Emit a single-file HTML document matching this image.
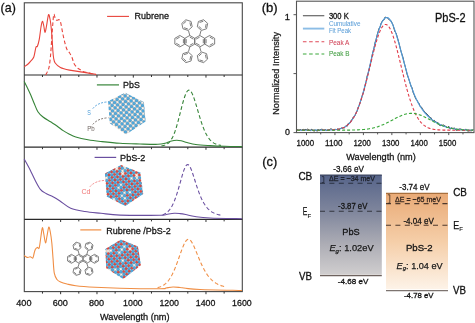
<!DOCTYPE html>
<html><head><meta charset="utf-8"><style>
html,body{margin:0;padding:0;background:#fff;width:475px;height:323px;overflow:hidden}
svg{display:block;filter:blur(0.25px);font-family:"Liberation Sans", sans-serif}
</style></head><body>
<svg width="475" height="323" viewBox="0 0 475 323" font-family='"Liberation Sans", sans-serif'><text x="0.60" y="12.00" font-size="13.61" fill="#111" text-anchor="start" stroke="#111" stroke-width="0.30" textLength="15.20" lengthAdjust="spacingAndGlyphs">(a)</text>
<rect x="24.30" y="2.80" width="218.00" height="288.80" fill="none" stroke="#474747" stroke-width="1.1"/>
<line x1="24.30" y1="75.00" x2="242.30" y2="75.00" stroke="#2a2a2a" stroke-width="1.2"/>
<line x1="24.30" y1="147.20" x2="242.30" y2="147.20" stroke="#2a2a2a" stroke-width="1.2"/>
<line x1="24.30" y1="219.40" x2="242.30" y2="219.40" stroke="#2a2a2a" stroke-width="1.2"/>
<path d="M42.47 75.00 V77.00 M60.63 75.00 V77.60 M78.80 75.00 V77.00 M96.97 75.00 V77.60 M115.13 75.00 V77.00 M133.30 75.00 V77.60 M151.47 75.00 V77.00 M169.63 75.00 V77.60 M187.80 75.00 V77.00 M205.97 75.00 V77.60 M224.13 75.00 V77.00 M42.47 147.20 V149.20 M60.63 147.20 V149.80 M78.80 147.20 V149.20 M96.97 147.20 V149.80 M115.13 147.20 V149.20 M133.30 147.20 V149.80 M151.47 147.20 V149.20 M169.63 147.20 V149.80 M187.80 147.20 V149.20 M205.97 147.20 V149.80 M224.13 147.20 V149.20 M42.47 219.40 V221.40 M60.63 219.40 V222.00 M78.80 219.40 V221.40 M96.97 219.40 V222.00 M115.13 219.40 V221.40 M133.30 219.40 V222.00 M151.47 219.40 V221.40 M169.63 219.40 V222.00 M187.80 219.40 V221.40 M205.97 219.40 V222.00 M224.13 219.40 V221.40 M42.47 291.60 V293.60 M60.63 291.60 V294.20 M78.80 291.60 V293.60 M96.97 291.60 V294.20 M115.13 291.60 V293.60 M133.30 291.60 V294.20 M151.47 291.60 V293.60 M169.63 291.60 V294.20 M187.80 291.60 V293.60 M205.97 291.60 V294.20 M224.13 291.60 V293.60" stroke="#333" stroke-width="1" fill="none"/>
<text x="23.90" y="306.30" font-size="9.94" fill="#151515" text-anchor="middle" stroke="#151515" stroke-width="0.30" textLength="15.20" lengthAdjust="spacingAndGlyphs">400</text>
<text x="60.23" y="306.30" font-size="9.94" fill="#151515" text-anchor="middle" stroke="#151515" stroke-width="0.30" textLength="15.20" lengthAdjust="spacingAndGlyphs">600</text>
<text x="96.57" y="306.30" font-size="9.94" fill="#151515" text-anchor="middle" stroke="#151515" stroke-width="0.30" textLength="15.20" lengthAdjust="spacingAndGlyphs">800</text>
<text x="132.90" y="306.30" font-size="9.94" fill="#151515" text-anchor="middle" stroke="#151515" stroke-width="0.30" textLength="19.60" lengthAdjust="spacingAndGlyphs">1000</text>
<text x="169.23" y="306.30" font-size="9.94" fill="#151515" text-anchor="middle" stroke="#151515" stroke-width="0.30" textLength="19.60" lengthAdjust="spacingAndGlyphs">1200</text>
<text x="205.57" y="306.30" font-size="9.94" fill="#151515" text-anchor="middle" stroke="#151515" stroke-width="0.30" textLength="19.60" lengthAdjust="spacingAndGlyphs">1400</text>
<text x="241.90" y="306.30" font-size="9.94" fill="#151515" text-anchor="middle" stroke="#151515" stroke-width="0.30" textLength="19.60" lengthAdjust="spacingAndGlyphs">1600</text>
<text x="134.80" y="319.80" font-size="9.94" fill="#151515" text-anchor="middle" stroke="#151515" stroke-width="0.30" textLength="69.50" lengthAdjust="spacingAndGlyphs">Wavelength (nm)</text>
<path d="M24.20 66.80 C24.75 66.42 26.45 65.42 27.50 64.50 C28.55 63.58 29.45 62.55 30.50 61.30 C31.55 60.05 32.90 59.33 33.80 57.00 C34.70 54.67 35.30 49.10 35.90 47.30 C36.50 45.50 36.85 47.47 37.40 46.20 C37.95 44.93 38.60 42.90 39.20 39.70 C39.80 36.50 40.47 30.07 41.00 27.00 C41.53 23.93 41.93 21.47 42.40 21.30 C42.87 21.13 43.37 24.13 43.80 26.00 C44.23 27.87 44.55 32.50 45.00 32.50 C45.45 32.50 45.92 28.95 46.50 26.00 C47.08 23.05 47.92 15.97 48.50 14.80 C49.08 13.63 49.57 17.02 50.00 19.00 C50.43 20.98 50.73 23.20 51.10 26.70 C51.47 30.20 51.92 36.12 52.20 40.00 C52.48 43.88 52.57 47.00 52.80 50.00 C53.03 53.00 53.20 55.83 53.60 58.00 C54.00 60.17 54.07 61.42 55.20 63.00 C56.33 64.58 58.02 66.32 60.40 67.50 C62.78 68.68 65.82 69.33 69.50 70.10 C73.18 70.87 78.17 71.42 82.50 72.10 C86.83 72.78 93.33 73.85 95.50 74.20" fill="none" stroke="#e8443c" stroke-width="1.1"/>
<path d="M45.70 75.00 C46.23 73.82 48.13 70.73 48.90 67.90 C49.67 65.07 49.93 61.27 50.30 58.00 C50.67 54.73 50.68 53.97 51.10 48.30 C51.52 42.63 52.33 29.70 52.80 24.00 C53.27 18.30 53.47 14.92 53.90 14.10 C54.33 13.28 54.88 18.08 55.40 19.10 C55.92 20.12 56.38 20.10 57.00 20.20 C57.62 20.30 58.52 19.40 59.10 19.70 C59.68 20.00 60.03 20.48 60.50 22.00 C60.97 23.52 61.40 26.30 61.90 28.80 C62.40 31.30 62.95 34.47 63.50 37.00 C64.05 39.53 64.62 41.92 65.20 44.00 C65.78 46.08 66.28 48.05 67.00 49.50 C67.72 50.95 68.67 51.37 69.50 52.70 C70.33 54.03 71.25 55.70 72.00 57.50 C72.75 59.30 73.17 61.83 74.00 63.50 C74.83 65.17 76.02 66.50 77.00 67.50 C77.98 68.50 78.90 68.83 79.90 69.50 C80.90 70.17 81.70 70.97 83.00 71.50 C84.30 72.03 86.20 72.32 87.70 72.70 C89.20 73.08 90.58 73.50 92.00 73.80 C93.42 74.10 95.50 74.38 96.20 74.50" fill="none" stroke="#e8443c" stroke-width="1.1" stroke-dasharray="3.8 2.4"/>
<line x1="107.1" y1="16.4" x2="129" y2="16.4" stroke="#e8443c" stroke-width="1.1"/>
<text x="134.50" y="19.10" font-size="9.94" fill="#151515" text-anchor="start" stroke="#151515" stroke-width="0.30" textLength="34.50" lengthAdjust="spacingAndGlyphs">Rubrene</text>
<path d="M179.81 46.95 L174.83 44.08 L174.83 38.33 L179.81 35.45 L184.79 38.33 L184.79 44.08Z M179.81 45.34 L176.23 43.27 M176.23 39.13 L179.81 37.06 M183.40 39.13 L183.40 43.27 M189.77 46.95 L184.79 44.08 L184.79 38.33 L189.77 35.45 L194.75 38.33 L194.75 44.08Z M186.19 43.27 L186.19 39.13 M189.77 37.06 L193.36 39.13 M193.36 43.27 L189.77 45.34 M199.73 46.95 L194.75 44.08 L194.75 38.33 L199.73 35.45 L204.71 38.33 L204.71 44.08Z M199.73 45.34 L196.14 43.27 M196.14 39.13 L199.73 37.06 M203.31 39.13 L203.31 43.27 M209.69 46.95 L204.71 44.08 L204.71 38.33 L209.69 35.45 L214.67 38.33 L214.67 44.08Z M206.10 43.27 L206.10 39.13 M209.69 37.06 L213.27 39.13 M213.27 43.27 L209.69 45.34 M189.77 35.45 L188.53 30.79 M188.15 30.44 L182.95 28.76 L181.82 23.41 L185.87 19.76 L191.07 21.44 L192.21 26.79Z M187.83 28.95 L184.09 27.73 M183.27 23.88 L186.19 21.25 M189.93 22.47 L190.75 26.32 M189.77 46.95 L188.53 51.61 M185.87 62.64 L181.82 58.99 L182.95 53.64 L188.15 51.96 L192.21 55.61 L191.07 60.96Z M186.19 61.15 L183.27 58.52 M184.09 54.67 L187.83 53.45 M190.75 56.08 L189.93 59.93 M199.73 35.45 L200.97 30.79 M201.35 30.44 L197.29 26.79 L198.43 21.44 L203.63 19.76 L207.68 23.41 L206.55 28.76Z M201.67 28.95 L198.75 26.32 M199.57 22.47 L203.31 21.25 M206.23 23.88 L205.41 27.73 M199.73 46.95 L200.97 51.61 M203.63 62.64 L198.43 60.96 L197.29 55.61 L201.35 51.96 L206.55 53.64 L207.68 58.99Z M203.31 61.15 L199.57 59.93 M198.75 56.08 L201.67 53.45 M205.41 54.67 L206.23 58.52" fill="none" stroke="#5e5e5e" stroke-width="0.8"/>
<path d="M24.20 81.40 C24.67 82.33 25.98 84.90 27.00 87.00 C28.02 89.10 29.13 91.33 30.30 94.00 C31.47 96.67 32.73 100.05 34.00 103.00 C35.27 105.95 36.40 109.37 37.90 111.70 C39.40 114.03 40.90 115.32 43.00 117.00 C45.10 118.68 48.17 120.30 50.50 121.80 C52.83 123.30 54.88 124.53 57.00 126.00 C59.12 127.47 61.20 129.27 63.20 130.60 C65.20 131.93 66.90 132.93 69.00 134.00 C71.10 135.07 72.63 136.03 75.80 137.00 C78.97 137.97 83.80 139.05 88.00 139.80 C92.20 140.55 95.67 140.92 101.00 141.50 C106.33 142.08 113.50 142.88 120.00 143.30 C126.50 143.72 133.68 143.83 140.00 144.00 C146.32 144.17 153.73 144.43 157.90 144.30 C162.07 144.17 162.90 143.72 165.00 143.20 C167.10 142.68 168.53 141.70 170.50 141.20 C172.47 140.70 174.88 140.23 176.80 140.20 C178.72 140.17 180.30 140.62 182.00 141.00 C183.70 141.38 184.70 141.92 187.00 142.50 C189.30 143.08 191.97 143.98 195.80 144.50 C199.63 145.02 205.13 145.30 210.00 145.60 C214.87 145.90 219.67 146.13 225.00 146.30 C230.33 146.47 239.17 146.55 242.00 146.60" fill="none" stroke="#368438" stroke-width="1.1"/>
<path d="M161.50 145.85 L162.20 145.74 L162.90 145.61 L163.60 145.46 L164.30 145.27 L165.00 145.04 L165.70 144.77 L166.40 144.43 L167.10 144.03 L167.80 143.56 L168.50 142.99 L169.20 142.32 L169.90 141.54 L170.60 140.62 L171.30 139.57 L172.00 138.38 L172.70 137.02 L173.40 135.50 L174.10 133.81 L174.80 131.95 L175.50 129.93 L176.20 127.74 L176.90 125.41 L177.60 122.94 L178.30 120.36 L179.00 117.69 L179.70 114.95 L180.40 112.18 L181.10 109.41 L181.80 106.69 L182.50 104.04 L183.20 101.51 L183.90 99.14 L184.60 96.97 L185.30 95.05 L186.00 93.40 L186.70 92.06 L187.40 91.05 L188.10 90.40 L188.80 90.11 L189.50 90.19 L190.20 90.63 L190.90 91.40 L191.60 92.49 L192.30 93.86 L193.00 95.49 L193.70 97.33 L194.40 99.35 L195.10 101.52 L195.80 103.79 L196.50 106.13 L197.20 108.51 L197.90 110.91 L198.60 113.30 L199.30 115.65 L200.00 117.95 L200.70 120.18 L201.40 122.32 L202.10 124.36 L202.80 126.31 L203.50 128.14 L204.20 129.86 L204.90 131.46 L205.60 132.94 L206.30 134.31 L207.00 135.57 L207.70 136.72 L208.40 137.77 L209.10 138.72 L209.80 139.58 L210.50 140.35 L211.20 141.04 L211.90 141.66 L212.60 142.21 L213.30 142.69 L214.00 143.12 L214.70 143.51 L215.40 143.84 L216.10 144.14 L216.80 144.40 L217.50 144.63 L218.20 144.83 L218.90 145.00 L219.60 145.16 L220.30 145.29 L221.00 145.41" fill="none" stroke="#368438" stroke-width="1.1" stroke-dasharray="3.8 2.4"/>
<line x1="96.9" y1="84.9" x2="119" y2="84.9" stroke="#368438" stroke-width="1.2"/>
<text x="123.10" y="88.20" font-size="9.94" fill="#151515" text-anchor="start" stroke="#151515" stroke-width="0.30" textLength="16.80" lengthAdjust="spacingAndGlyphs">PbS</text>
<path d="M24.20 159.00 C24.67 159.83 25.98 162.12 27.00 164.00 C28.02 165.88 28.97 167.63 30.30 170.30 C31.63 172.97 33.32 176.83 35.00 180.00 C36.68 183.17 38.57 187.05 40.40 189.30 C42.23 191.55 43.90 192.25 46.00 193.50 C48.10 194.75 50.67 195.55 53.00 196.80 C55.33 198.05 57.05 199.10 60.00 201.00 C62.95 202.90 66.53 206.45 70.70 208.20 C74.87 209.95 79.95 210.65 85.00 211.50 C90.05 212.35 95.17 212.70 101.00 213.30 C106.83 213.90 110.10 214.78 120.00 215.10 C129.90 215.42 152.57 215.35 160.40 215.20 C168.23 215.05 164.68 214.52 167.00 214.20 C169.32 213.88 172.13 213.40 174.30 213.30 C176.47 213.20 178.10 213.40 180.00 213.60 C181.90 213.80 183.20 214.02 185.70 214.50 C188.20 214.98 190.95 215.92 195.00 216.50 C199.05 217.08 202.17 217.62 210.00 218.00 C217.83 218.38 236.67 218.67 242.00 218.80" fill="none" stroke="#6a4fa0" stroke-width="1.1"/>
<path d="M162.50 214.97 L163.20 214.69 L163.90 214.36 L164.60 214.00 L165.30 213.60 L166.00 213.14 L166.70 212.63 L167.40 212.05 L168.10 211.39 L168.80 210.65 L169.50 209.82 L170.20 208.90 L170.90 207.86 L171.60 206.71 L172.30 205.44 L173.00 204.04 L173.70 202.51 L174.40 200.85 L175.10 199.05 L175.80 197.13 L176.50 195.08 L177.20 192.90 L177.90 190.63 L178.60 188.25 L179.30 185.81 L180.00 183.32 L180.70 180.81 L181.40 178.31 L182.10 175.87 L182.80 173.55 L183.50 171.38 L184.20 169.42 L184.90 167.73 L185.60 166.37 L186.30 165.38 L187.00 164.78 L187.70 164.60 L188.40 164.84 L189.10 165.47 L189.80 166.48 L190.50 167.81 L191.20 169.41 L191.90 171.24 L192.60 173.23 L193.30 175.34 L194.00 177.52 L194.70 179.74 L195.40 181.97 L196.10 184.16 L196.80 186.31 L197.50 188.40 L198.20 190.41 L198.90 192.34 L199.60 194.17 L200.30 195.90 L201.00 197.54 L201.70 199.07 L202.40 200.51 L203.10 201.85 L203.80 203.09 L204.50 204.24 L205.20 205.31 L205.90 206.29 L206.60 207.19 L207.30 208.01 L208.00 208.77 L208.70 209.46 L209.40 210.09 L210.10 210.67 L210.80 211.20 L211.50 211.68 L212.20 212.12 L212.90 212.51 L213.60 212.88 L214.30 213.21 L215.00 213.51 L215.70 213.79 L216.40 214.04 L217.10 214.28 L217.80 214.49 L218.50 214.69 L219.20 214.87 L219.90 215.04 L220.60 215.20 L221.30 215.35" fill="none" stroke="#6a4fa0" stroke-width="1.1" stroke-dasharray="3.8 2.4"/>
<line x1="94.6" y1="157.4" x2="116.2" y2="157.4" stroke="#6a4fa0" stroke-width="1.2"/>
<text x="120.10" y="161.00" font-size="9.94" fill="#151515" text-anchor="start" stroke="#151515" stroke-width="0.30" textLength="25.30" lengthAdjust="spacingAndGlyphs">PbS-2</text>
<path d="M24.20 255.50 C24.50 255.72 25.40 256.47 26.00 256.80 C26.60 257.13 27.08 257.52 27.80 257.50 C28.52 257.48 29.47 256.62 30.30 256.70 C31.13 256.78 32.15 258.62 32.80 258.00 C33.45 257.38 33.77 254.47 34.20 253.00 C34.63 251.53 34.87 250.13 35.40 249.20 C35.93 248.27 36.77 247.62 37.40 247.40 C38.03 247.18 38.60 249.80 39.20 247.90 C39.80 246.00 40.47 239.37 41.00 236.00 C41.53 232.63 41.93 228.03 42.40 227.70 C42.87 227.37 43.28 231.48 43.80 234.00 C44.32 236.52 44.97 242.47 45.50 242.80 C46.03 243.13 46.45 238.60 47.00 236.00 C47.55 233.40 48.25 227.87 48.80 227.20 C49.35 226.53 49.80 229.40 50.30 232.00 C50.80 234.60 51.35 238.47 51.80 242.80 C52.25 247.13 52.58 252.93 53.00 258.00 C53.42 263.07 53.63 269.62 54.30 273.20 C54.97 276.78 55.95 278.03 57.00 279.50 C58.05 280.97 58.93 281.25 60.60 282.00 C62.27 282.75 64.47 283.37 67.00 284.00 C69.53 284.63 71.13 285.25 75.80 285.80 C80.47 286.35 87.63 286.88 95.00 287.30 C102.37 287.72 109.10 288.05 120.00 288.30 C130.90 288.55 152.73 288.85 160.40 288.80 C168.07 288.75 163.90 288.30 166.00 288.00 C168.10 287.70 170.67 287.08 173.00 287.00 C175.33 286.92 177.88 287.28 180.00 287.50 C182.12 287.72 182.37 287.97 185.70 288.30 C189.03 288.63 190.62 289.13 200.00 289.50 C209.38 289.87 235.00 290.33 242.00 290.50" fill="none" stroke="#f08e44" stroke-width="1.1"/>
<path d="M157.50 287.68 L158.20 287.48 L158.90 287.26 L159.60 287.03 L160.30 286.76 L161.00 286.47 L161.70 286.15 L162.40 285.80 L163.10 285.40 L163.80 284.96 L164.50 284.47 L165.20 283.92 L165.90 283.32 L166.60 282.65 L167.30 281.92 L168.00 281.11 L168.70 280.22 L169.40 279.26 L170.10 278.21 L170.80 277.07 L171.50 275.84 L172.20 274.52 L172.90 273.11 L173.60 271.61 L174.30 270.03 L175.00 268.36 L175.70 266.61 L176.40 264.79 L177.10 262.91 L177.80 260.98 L178.50 259.01 L179.20 257.02 L179.90 255.01 L180.60 253.02 L181.30 251.07 L182.00 249.17 L182.70 247.36 L183.40 245.67 L184.10 244.12 L184.80 242.74 L185.50 241.57 L186.20 240.62 L186.90 239.92 L187.60 239.48 L188.30 239.30 L189.00 239.40 L189.70 239.75 L190.40 240.36 L191.10 241.19 L191.80 242.22 L192.50 243.43 L193.20 244.79 L193.90 246.27 L194.60 247.85 L195.30 249.49 L196.00 251.18 L196.70 252.90 L197.40 254.63 L198.10 256.35 L198.80 258.05 L199.50 259.72 L200.20 261.35 L200.90 262.94 L201.60 264.47 L202.30 265.95 L203.00 267.37 L203.70 268.72 L204.40 270.02 L205.10 271.25 L205.80 272.42 L206.50 273.53 L207.20 274.57 L207.90 275.55 L208.60 276.48 L209.30 277.35 L210.00 278.16 L210.70 278.92 L211.40 279.63 L212.10 280.29 L212.80 280.91 L213.50 281.48 L214.20 282.02 L214.90 282.51 L215.60 282.97 L216.30 283.40 L217.00 283.79 L217.70 284.16 L218.40 284.50 L219.10 284.81 L219.80 285.10 L220.50 285.38 L221.20 285.63 L221.90 285.86 L222.60 286.08 L223.30 286.28 L224.00 286.47 L224.70 286.64 L225.40 286.80 L226.10 286.96" fill="none" stroke="#f08e44" stroke-width="1.1" stroke-dasharray="3.8 2.4"/>
<line x1="80.3" y1="229.9" x2="101.3" y2="229.9" stroke="#f08e44" stroke-width="1.2"/>
<text x="106.20" y="233.60" font-size="9.94" fill="#151515" text-anchor="start" stroke="#151515" stroke-width="0.30" textLength="64.60" lengthAdjust="spacingAndGlyphs">Rubrene /PbS-2</text>
<path d="M71.44 263.25 L67.58 261.03 L67.58 256.57 L71.44 254.35 L75.29 256.57 L75.29 261.03Z M71.44 262.00 L68.66 260.40 M68.66 257.20 L71.44 255.60 M74.21 257.20 L74.21 260.40 M79.15 263.25 L75.29 261.03 L75.29 256.57 L79.15 254.35 L83.00 256.57 L83.00 261.03Z M76.37 260.40 L76.37 257.20 M79.15 255.60 L81.92 257.20 M81.92 260.40 L79.15 262.00 M86.85 263.25 L83.00 261.03 L83.00 256.57 L86.85 254.35 L90.71 256.57 L90.71 261.03Z M86.85 262.00 L84.08 260.40 M84.08 257.20 L86.85 255.60 M89.63 257.20 L89.63 260.40 M94.56 263.25 L90.71 261.03 L90.71 256.57 L94.56 254.35 L98.42 256.57 L98.42 261.03Z M91.79 260.40 L91.79 257.20 M94.56 255.60 L97.34 257.20 M97.34 260.40 L94.56 262.00 M79.15 254.35 L78.18 250.75 M77.89 250.48 L73.87 249.17 L72.99 245.03 L76.13 242.20 L80.15 243.51 L81.03 247.65Z M77.64 249.32 L74.75 248.38 M74.12 245.40 L76.38 243.36 M79.27 244.30 L79.91 247.28 M79.15 263.25 L78.18 266.85 M76.13 275.40 L72.99 272.57 L73.87 268.43 L77.89 267.12 L81.03 269.95 L80.15 274.09Z M76.38 274.24 L74.12 272.20 M74.75 269.22 L77.64 268.28 M79.91 270.32 L79.27 273.30 M86.85 254.35 L87.82 250.75 M88.11 250.48 L84.97 247.65 L85.85 243.51 L89.87 242.20 L93.01 245.03 L92.13 249.17Z M88.36 249.32 L86.09 247.28 M86.73 244.30 L89.62 243.36 M91.88 245.40 L91.25 248.38 M86.85 263.25 L87.82 266.85 M89.87 275.40 L85.85 274.09 L84.97 269.95 L88.11 267.12 L92.13 268.43 L93.01 272.57Z M89.62 274.24 L86.73 273.30 M86.09 270.32 L88.36 268.28 M91.25 269.22 L91.88 272.20" fill="none" stroke="#5e5e5e" stroke-width="0.8"/>
<clipPath id="nc1"><path d="M125.10 92.70 L143.90 102.00 L145.60 121.60 L126.00 134.40 L109.80 123.30 L108.10 101.20Z"/></clipPath>
<g clip-path="url(#nc1)"><path d="M125.10 92.70 L143.90 102.00 L145.60 121.60 L126.00 134.40 L109.80 123.30 L108.10 101.20Z" fill="#f4efea"/><circle cx="127.48" cy="93.06" r="1.60" fill="#4fabe0" stroke="#2f82b8" stroke-width="0.35"/><circle cx="124.73" cy="93.30" r="1.30" fill="#fbf8f4" stroke="#b89c8a" stroke-width="0.35"/><circle cx="121.99" cy="93.54" r="1.60" fill="#4fabe0" stroke="#2f82b8" stroke-width="0.35"/><circle cx="130.47" cy="95.57" r="1.60" fill="#4fabe0" stroke="#2f82b8" stroke-width="0.35"/><circle cx="127.72" cy="95.81" r="1.30" fill="#fbf8f4" stroke="#b89c8a" stroke-width="0.35"/><circle cx="124.97" cy="96.05" r="1.60" fill="#4fabe0" stroke="#2f82b8" stroke-width="0.35"/><circle cx="122.23" cy="96.29" r="1.30" fill="#fbf8f4" stroke="#b89c8a" stroke-width="0.35"/><circle cx="119.48" cy="96.53" r="1.60" fill="#4fabe0" stroke="#2f82b8" stroke-width="0.35"/><circle cx="116.73" cy="96.77" r="1.30" fill="#fbf8f4" stroke="#b89c8a" stroke-width="0.35"/><circle cx="136.20" cy="97.84" r="1.30" fill="#fbf8f4" stroke="#b89c8a" stroke-width="0.35"/><circle cx="133.46" cy="98.08" r="1.60" fill="#4fabe0" stroke="#2f82b8" stroke-width="0.35"/><circle cx="130.71" cy="98.32" r="1.30" fill="#fbf8f4" stroke="#b89c8a" stroke-width="0.35"/><circle cx="127.96" cy="98.56" r="1.60" fill="#4fabe0" stroke="#2f82b8" stroke-width="0.35"/><circle cx="125.21" cy="98.80" r="1.30" fill="#fbf8f4" stroke="#b89c8a" stroke-width="0.35"/><circle cx="122.47" cy="99.04" r="1.60" fill="#4fabe0" stroke="#2f82b8" stroke-width="0.35"/><circle cx="119.72" cy="99.28" r="1.30" fill="#fbf8f4" stroke="#b89c8a" stroke-width="0.35"/><circle cx="116.97" cy="99.52" r="1.60" fill="#4fabe0" stroke="#2f82b8" stroke-width="0.35"/><circle cx="114.23" cy="99.76" r="1.30" fill="#fbf8f4" stroke="#b89c8a" stroke-width="0.35"/><circle cx="111.48" cy="100.00" r="1.60" fill="#4fabe0" stroke="#2f82b8" stroke-width="0.35"/><circle cx="141.94" cy="100.10" r="1.60" fill="#4fabe0" stroke="#2f82b8" stroke-width="0.35"/><circle cx="108.73" cy="100.24" r="1.30" fill="#fbf8f4" stroke="#b89c8a" stroke-width="0.35"/><circle cx="139.19" cy="100.34" r="1.30" fill="#fbf8f4" stroke="#b89c8a" stroke-width="0.35"/><circle cx="136.44" cy="100.58" r="1.60" fill="#4fabe0" stroke="#2f82b8" stroke-width="0.35"/><circle cx="133.70" cy="100.82" r="1.30" fill="#fbf8f4" stroke="#b89c8a" stroke-width="0.35"/><circle cx="130.95" cy="101.06" r="1.60" fill="#4fabe0" stroke="#2f82b8" stroke-width="0.35"/><circle cx="128.20" cy="101.30" r="1.30" fill="#fbf8f4" stroke="#b89c8a" stroke-width="0.35"/><circle cx="125.46" cy="101.54" r="1.60" fill="#4fabe0" stroke="#2f82b8" stroke-width="0.35"/><circle cx="122.71" cy="101.78" r="1.30" fill="#fbf8f4" stroke="#b89c8a" stroke-width="0.35"/><circle cx="119.96" cy="102.03" r="1.60" fill="#4fabe0" stroke="#2f82b8" stroke-width="0.35"/><circle cx="117.21" cy="102.27" r="1.30" fill="#fbf8f4" stroke="#b89c8a" stroke-width="0.35"/><circle cx="114.47" cy="102.51" r="1.60" fill="#4fabe0" stroke="#2f82b8" stroke-width="0.35"/><circle cx="144.93" cy="102.61" r="1.60" fill="#4fabe0" stroke="#2f82b8" stroke-width="0.35"/><circle cx="111.72" cy="102.75" r="1.30" fill="#fbf8f4" stroke="#b89c8a" stroke-width="0.35"/><circle cx="142.18" cy="102.85" r="1.30" fill="#fbf8f4" stroke="#b89c8a" stroke-width="0.35"/><circle cx="108.97" cy="102.99" r="1.60" fill="#4fabe0" stroke="#2f82b8" stroke-width="0.35"/><circle cx="139.43" cy="103.09" r="1.60" fill="#4fabe0" stroke="#2f82b8" stroke-width="0.35"/><circle cx="136.68" cy="103.33" r="1.30" fill="#fbf8f4" stroke="#b89c8a" stroke-width="0.35"/><circle cx="133.94" cy="103.57" r="1.60" fill="#4fabe0" stroke="#2f82b8" stroke-width="0.35"/><circle cx="131.19" cy="103.81" r="1.30" fill="#fbf8f4" stroke="#b89c8a" stroke-width="0.35"/><circle cx="128.44" cy="104.05" r="1.60" fill="#4fabe0" stroke="#2f82b8" stroke-width="0.35"/><circle cx="125.70" cy="104.29" r="1.30" fill="#fbf8f4" stroke="#b89c8a" stroke-width="0.35"/><circle cx="122.95" cy="104.53" r="1.60" fill="#4fabe0" stroke="#2f82b8" stroke-width="0.35"/><circle cx="120.20" cy="104.77" r="1.30" fill="#fbf8f4" stroke="#b89c8a" stroke-width="0.35"/><circle cx="117.45" cy="105.01" r="1.60" fill="#4fabe0" stroke="#2f82b8" stroke-width="0.35"/><circle cx="114.71" cy="105.25" r="1.30" fill="#fbf8f4" stroke="#b89c8a" stroke-width="0.35"/><circle cx="145.17" cy="105.36" r="1.30" fill="#fbf8f4" stroke="#b89c8a" stroke-width="0.35"/><circle cx="111.96" cy="105.49" r="1.60" fill="#4fabe0" stroke="#2f82b8" stroke-width="0.35"/><circle cx="142.42" cy="105.60" r="1.60" fill="#4fabe0" stroke="#2f82b8" stroke-width="0.35"/><circle cx="109.21" cy="105.73" r="1.30" fill="#fbf8f4" stroke="#b89c8a" stroke-width="0.35"/><circle cx="139.67" cy="105.84" r="1.30" fill="#fbf8f4" stroke="#b89c8a" stroke-width="0.35"/><circle cx="136.92" cy="106.08" r="1.60" fill="#4fabe0" stroke="#2f82b8" stroke-width="0.35"/><circle cx="134.18" cy="106.32" r="1.30" fill="#fbf8f4" stroke="#b89c8a" stroke-width="0.35"/><circle cx="131.43" cy="106.56" r="1.60" fill="#4fabe0" stroke="#2f82b8" stroke-width="0.35"/><circle cx="128.68" cy="106.80" r="1.30" fill="#fbf8f4" stroke="#b89c8a" stroke-width="0.35"/><circle cx="125.94" cy="107.04" r="1.60" fill="#4fabe0" stroke="#2f82b8" stroke-width="0.35"/><circle cx="123.19" cy="107.28" r="1.30" fill="#fbf8f4" stroke="#b89c8a" stroke-width="0.35"/><circle cx="120.44" cy="107.52" r="1.60" fill="#4fabe0" stroke="#2f82b8" stroke-width="0.35"/><circle cx="117.69" cy="107.76" r="1.30" fill="#fbf8f4" stroke="#b89c8a" stroke-width="0.35"/><circle cx="114.95" cy="108.00" r="1.60" fill="#4fabe0" stroke="#2f82b8" stroke-width="0.35"/><circle cx="145.41" cy="108.10" r="1.60" fill="#4fabe0" stroke="#2f82b8" stroke-width="0.35"/><circle cx="112.20" cy="108.24" r="1.30" fill="#fbf8f4" stroke="#b89c8a" stroke-width="0.35"/><circle cx="142.66" cy="108.34" r="1.30" fill="#fbf8f4" stroke="#b89c8a" stroke-width="0.35"/><circle cx="109.45" cy="108.48" r="1.60" fill="#4fabe0" stroke="#2f82b8" stroke-width="0.35"/><circle cx="139.91" cy="108.58" r="1.60" fill="#4fabe0" stroke="#2f82b8" stroke-width="0.35"/><circle cx="137.17" cy="108.82" r="1.30" fill="#fbf8f4" stroke="#b89c8a" stroke-width="0.35"/><circle cx="134.42" cy="109.07" r="1.60" fill="#4fabe0" stroke="#2f82b8" stroke-width="0.35"/><circle cx="131.67" cy="109.31" r="1.30" fill="#fbf8f4" stroke="#b89c8a" stroke-width="0.35"/><circle cx="128.92" cy="109.55" r="1.60" fill="#4fabe0" stroke="#2f82b8" stroke-width="0.35"/><circle cx="126.18" cy="109.79" r="1.30" fill="#fbf8f4" stroke="#b89c8a" stroke-width="0.35"/><circle cx="123.43" cy="110.03" r="1.60" fill="#4fabe0" stroke="#2f82b8" stroke-width="0.35"/><circle cx="120.68" cy="110.27" r="1.30" fill="#fbf8f4" stroke="#b89c8a" stroke-width="0.35"/><circle cx="117.93" cy="110.51" r="1.60" fill="#4fabe0" stroke="#2f82b8" stroke-width="0.35"/><circle cx="115.19" cy="110.75" r="1.30" fill="#fbf8f4" stroke="#b89c8a" stroke-width="0.35"/><circle cx="145.65" cy="110.85" r="1.30" fill="#fbf8f4" stroke="#b89c8a" stroke-width="0.35"/><circle cx="112.44" cy="110.99" r="1.60" fill="#4fabe0" stroke="#2f82b8" stroke-width="0.35"/><circle cx="142.90" cy="111.09" r="1.60" fill="#4fabe0" stroke="#2f82b8" stroke-width="0.35"/><circle cx="109.69" cy="111.23" r="1.30" fill="#fbf8f4" stroke="#b89c8a" stroke-width="0.35"/><circle cx="140.15" cy="111.33" r="1.30" fill="#fbf8f4" stroke="#b89c8a" stroke-width="0.35"/><circle cx="137.41" cy="111.57" r="1.60" fill="#4fabe0" stroke="#2f82b8" stroke-width="0.35"/><circle cx="134.66" cy="111.81" r="1.30" fill="#fbf8f4" stroke="#b89c8a" stroke-width="0.35"/><circle cx="131.91" cy="112.05" r="1.60" fill="#4fabe0" stroke="#2f82b8" stroke-width="0.35"/><circle cx="129.16" cy="112.29" r="1.30" fill="#fbf8f4" stroke="#b89c8a" stroke-width="0.35"/><circle cx="126.42" cy="112.53" r="1.60" fill="#4fabe0" stroke="#2f82b8" stroke-width="0.35"/><circle cx="123.67" cy="112.77" r="1.30" fill="#fbf8f4" stroke="#b89c8a" stroke-width="0.35"/><circle cx="120.92" cy="113.01" r="1.60" fill="#4fabe0" stroke="#2f82b8" stroke-width="0.35"/><circle cx="118.17" cy="113.25" r="1.30" fill="#fbf8f4" stroke="#b89c8a" stroke-width="0.35"/><circle cx="115.43" cy="113.49" r="1.60" fill="#4fabe0" stroke="#2f82b8" stroke-width="0.35"/><circle cx="145.89" cy="113.60" r="1.60" fill="#4fabe0" stroke="#2f82b8" stroke-width="0.35"/><circle cx="112.68" cy="113.74" r="1.30" fill="#fbf8f4" stroke="#b89c8a" stroke-width="0.35"/><circle cx="143.14" cy="113.84" r="1.30" fill="#fbf8f4" stroke="#b89c8a" stroke-width="0.35"/><circle cx="109.93" cy="113.98" r="1.60" fill="#4fabe0" stroke="#2f82b8" stroke-width="0.35"/><circle cx="140.39" cy="114.08" r="1.60" fill="#4fabe0" stroke="#2f82b8" stroke-width="0.35"/><circle cx="137.65" cy="114.32" r="1.30" fill="#fbf8f4" stroke="#b89c8a" stroke-width="0.35"/><circle cx="134.90" cy="114.56" r="1.60" fill="#4fabe0" stroke="#2f82b8" stroke-width="0.35"/><circle cx="132.15" cy="114.80" r="1.30" fill="#fbf8f4" stroke="#b89c8a" stroke-width="0.35"/><circle cx="129.40" cy="115.04" r="1.60" fill="#4fabe0" stroke="#2f82b8" stroke-width="0.35"/><circle cx="126.66" cy="115.28" r="1.30" fill="#fbf8f4" stroke="#b89c8a" stroke-width="0.35"/><circle cx="123.91" cy="115.52" r="1.60" fill="#4fabe0" stroke="#2f82b8" stroke-width="0.35"/><circle cx="121.16" cy="115.76" r="1.30" fill="#fbf8f4" stroke="#b89c8a" stroke-width="0.35"/><circle cx="118.42" cy="116.00" r="1.60" fill="#4fabe0" stroke="#2f82b8" stroke-width="0.35"/><circle cx="115.67" cy="116.24" r="1.30" fill="#fbf8f4" stroke="#b89c8a" stroke-width="0.35"/><circle cx="146.13" cy="116.35" r="1.30" fill="#fbf8f4" stroke="#b89c8a" stroke-width="0.35"/><circle cx="112.92" cy="116.48" r="1.60" fill="#4fabe0" stroke="#2f82b8" stroke-width="0.35"/><circle cx="143.38" cy="116.59" r="1.60" fill="#4fabe0" stroke="#2f82b8" stroke-width="0.35"/><circle cx="110.17" cy="116.72" r="1.30" fill="#fbf8f4" stroke="#b89c8a" stroke-width="0.35"/><circle cx="140.63" cy="116.83" r="1.30" fill="#fbf8f4" stroke="#b89c8a" stroke-width="0.35"/><circle cx="137.89" cy="117.07" r="1.60" fill="#4fabe0" stroke="#2f82b8" stroke-width="0.35"/><circle cx="135.14" cy="117.31" r="1.30" fill="#fbf8f4" stroke="#b89c8a" stroke-width="0.35"/><circle cx="132.39" cy="117.55" r="1.60" fill="#4fabe0" stroke="#2f82b8" stroke-width="0.35"/><circle cx="129.64" cy="117.79" r="1.30" fill="#fbf8f4" stroke="#b89c8a" stroke-width="0.35"/><circle cx="126.90" cy="118.03" r="1.60" fill="#4fabe0" stroke="#2f82b8" stroke-width="0.35"/><circle cx="124.15" cy="118.27" r="1.30" fill="#fbf8f4" stroke="#b89c8a" stroke-width="0.35"/><circle cx="121.40" cy="118.51" r="1.60" fill="#4fabe0" stroke="#2f82b8" stroke-width="0.35"/><circle cx="118.66" cy="118.75" r="1.30" fill="#fbf8f4" stroke="#b89c8a" stroke-width="0.35"/><circle cx="115.91" cy="118.99" r="1.60" fill="#4fabe0" stroke="#2f82b8" stroke-width="0.35"/><circle cx="146.37" cy="119.09" r="1.60" fill="#4fabe0" stroke="#2f82b8" stroke-width="0.35"/><circle cx="113.16" cy="119.23" r="1.30" fill="#fbf8f4" stroke="#b89c8a" stroke-width="0.35"/><circle cx="143.62" cy="119.33" r="1.30" fill="#fbf8f4" stroke="#b89c8a" stroke-width="0.35"/><circle cx="110.41" cy="119.47" r="1.60" fill="#4fabe0" stroke="#2f82b8" stroke-width="0.35"/><circle cx="140.87" cy="119.57" r="1.60" fill="#4fabe0" stroke="#2f82b8" stroke-width="0.35"/><circle cx="138.13" cy="119.81" r="1.30" fill="#fbf8f4" stroke="#b89c8a" stroke-width="0.35"/><circle cx="135.38" cy="120.05" r="1.60" fill="#4fabe0" stroke="#2f82b8" stroke-width="0.35"/><circle cx="132.63" cy="120.29" r="1.30" fill="#fbf8f4" stroke="#b89c8a" stroke-width="0.35"/><circle cx="129.88" cy="120.53" r="1.60" fill="#4fabe0" stroke="#2f82b8" stroke-width="0.35"/><circle cx="127.14" cy="120.78" r="1.30" fill="#fbf8f4" stroke="#b89c8a" stroke-width="0.35"/><circle cx="124.39" cy="121.02" r="1.60" fill="#4fabe0" stroke="#2f82b8" stroke-width="0.35"/><circle cx="121.64" cy="121.26" r="1.30" fill="#fbf8f4" stroke="#b89c8a" stroke-width="0.35"/><circle cx="118.90" cy="121.50" r="1.60" fill="#4fabe0" stroke="#2f82b8" stroke-width="0.35"/><circle cx="116.15" cy="121.74" r="1.30" fill="#fbf8f4" stroke="#b89c8a" stroke-width="0.35"/><circle cx="146.61" cy="121.84" r="1.30" fill="#fbf8f4" stroke="#b89c8a" stroke-width="0.35"/><circle cx="113.40" cy="121.98" r="1.60" fill="#4fabe0" stroke="#2f82b8" stroke-width="0.35"/><circle cx="143.86" cy="122.08" r="1.60" fill="#4fabe0" stroke="#2f82b8" stroke-width="0.35"/><circle cx="110.65" cy="122.22" r="1.30" fill="#fbf8f4" stroke="#b89c8a" stroke-width="0.35"/><circle cx="141.11" cy="122.32" r="1.30" fill="#fbf8f4" stroke="#b89c8a" stroke-width="0.35"/><circle cx="138.37" cy="122.56" r="1.60" fill="#4fabe0" stroke="#2f82b8" stroke-width="0.35"/><circle cx="135.62" cy="122.80" r="1.30" fill="#fbf8f4" stroke="#b89c8a" stroke-width="0.35"/><circle cx="132.87" cy="123.04" r="1.60" fill="#4fabe0" stroke="#2f82b8" stroke-width="0.35"/><circle cx="130.13" cy="123.28" r="1.30" fill="#fbf8f4" stroke="#b89c8a" stroke-width="0.35"/><circle cx="127.38" cy="123.52" r="1.60" fill="#4fabe0" stroke="#2f82b8" stroke-width="0.35"/><circle cx="124.63" cy="123.76" r="1.30" fill="#fbf8f4" stroke="#b89c8a" stroke-width="0.35"/><circle cx="121.88" cy="124.00" r="1.60" fill="#4fabe0" stroke="#2f82b8" stroke-width="0.35"/><circle cx="119.14" cy="124.24" r="1.30" fill="#fbf8f4" stroke="#b89c8a" stroke-width="0.35"/><circle cx="116.39" cy="124.48" r="1.60" fill="#4fabe0" stroke="#2f82b8" stroke-width="0.35"/><circle cx="113.64" cy="124.72" r="1.30" fill="#fbf8f4" stroke="#b89c8a" stroke-width="0.35"/><circle cx="110.89" cy="124.96" r="1.60" fill="#4fabe0" stroke="#2f82b8" stroke-width="0.35"/><circle cx="141.35" cy="125.07" r="1.60" fill="#4fabe0" stroke="#2f82b8" stroke-width="0.35"/><circle cx="138.61" cy="125.31" r="1.30" fill="#fbf8f4" stroke="#b89c8a" stroke-width="0.35"/><circle cx="135.86" cy="125.55" r="1.60" fill="#4fabe0" stroke="#2f82b8" stroke-width="0.35"/><circle cx="133.11" cy="125.79" r="1.30" fill="#fbf8f4" stroke="#b89c8a" stroke-width="0.35"/><circle cx="130.37" cy="126.03" r="1.60" fill="#4fabe0" stroke="#2f82b8" stroke-width="0.35"/><circle cx="127.62" cy="126.27" r="1.30" fill="#fbf8f4" stroke="#b89c8a" stroke-width="0.35"/><circle cx="124.87" cy="126.51" r="1.60" fill="#4fabe0" stroke="#2f82b8" stroke-width="0.35"/><circle cx="122.12" cy="126.75" r="1.30" fill="#fbf8f4" stroke="#b89c8a" stroke-width="0.35"/><circle cx="119.38" cy="126.99" r="1.60" fill="#4fabe0" stroke="#2f82b8" stroke-width="0.35"/><circle cx="116.63" cy="127.23" r="1.30" fill="#fbf8f4" stroke="#b89c8a" stroke-width="0.35"/><circle cx="136.10" cy="128.30" r="1.30" fill="#fbf8f4" stroke="#b89c8a" stroke-width="0.35"/><circle cx="133.35" cy="128.54" r="1.60" fill="#4fabe0" stroke="#2f82b8" stroke-width="0.35"/><circle cx="130.61" cy="128.78" r="1.30" fill="#fbf8f4" stroke="#b89c8a" stroke-width="0.35"/><circle cx="127.86" cy="129.02" r="1.60" fill="#4fabe0" stroke="#2f82b8" stroke-width="0.35"/><circle cx="125.11" cy="129.26" r="1.30" fill="#fbf8f4" stroke="#b89c8a" stroke-width="0.35"/><circle cx="122.36" cy="129.50" r="1.60" fill="#4fabe0" stroke="#2f82b8" stroke-width="0.35"/><circle cx="119.62" cy="129.74" r="1.30" fill="#fbf8f4" stroke="#b89c8a" stroke-width="0.35"/><circle cx="130.85" cy="131.52" r="1.60" fill="#4fabe0" stroke="#2f82b8" stroke-width="0.35"/><circle cx="128.10" cy="131.76" r="1.30" fill="#fbf8f4" stroke="#b89c8a" stroke-width="0.35"/><circle cx="125.35" cy="132.00" r="1.60" fill="#4fabe0" stroke="#2f82b8" stroke-width="0.35"/><circle cx="122.60" cy="132.24" r="1.30" fill="#fbf8f4" stroke="#b89c8a" stroke-width="0.35"/><circle cx="125.59" cy="134.75" r="1.30" fill="#fbf8f4" stroke="#b89c8a" stroke-width="0.35"/></g>
<clipPath id="nc2"><path d="M121.10 165.10 L140.60 172.80 L143.20 194.00 L125.30 206.00 L106.60 196.60 L104.90 173.60Z"/></clipPath>
<g clip-path="url(#nc2)"><path d="M121.10 165.10 L140.60 172.80 L143.20 194.00 L125.30 206.00 L106.60 196.60 L104.90 173.60Z" fill="#f4efea"/><circle cx="121.94" cy="165.51" r="1.22" fill="#e84a42" stroke="#b8362f" stroke-width="0.35"/><circle cx="119.20" cy="165.75" r="1.55" fill="#4fabe0" stroke="#2f82b8" stroke-width="0.35"/><circle cx="127.66" cy="167.77" r="1.55" fill="#4fabe0" stroke="#2f82b8" stroke-width="0.35"/><circle cx="124.92" cy="168.01" r="1.22" fill="#fbf8f4" stroke="#b89c8a" stroke-width="0.35"/><circle cx="122.18" cy="168.25" r="1.55" fill="#4fabe0" stroke="#2f82b8" stroke-width="0.35"/><circle cx="119.44" cy="168.49" r="1.22" fill="#e84a42" stroke="#b8362f" stroke-width="0.35"/><circle cx="116.70" cy="168.73" r="1.22" fill="#fbf8f4" stroke="#b89c8a" stroke-width="0.35"/><circle cx="113.96" cy="168.97" r="1.22" fill="#e84a42" stroke="#b8362f" stroke-width="0.35"/><circle cx="111.22" cy="169.20" r="1.55" fill="#4fabe0" stroke="#2f82b8" stroke-width="0.35"/><circle cx="133.38" cy="170.03" r="1.22" fill="#e84a42" stroke="#b8362f" stroke-width="0.35"/><circle cx="130.64" cy="170.27" r="1.55" fill="#4fabe0" stroke="#2f82b8" stroke-width="0.35"/><circle cx="127.90" cy="170.51" r="1.22" fill="#e84a42" stroke="#b8362f" stroke-width="0.35"/><circle cx="125.16" cy="170.75" r="1.55" fill="#4fabe0" stroke="#2f82b8" stroke-width="0.35"/><circle cx="122.42" cy="170.99" r="1.22" fill="#fbf8f4" stroke="#b89c8a" stroke-width="0.35"/><circle cx="119.68" cy="171.23" r="1.55" fill="#4fabe0" stroke="#2f82b8" stroke-width="0.35"/><circle cx="116.94" cy="171.47" r="1.22" fill="#e84a42" stroke="#b8362f" stroke-width="0.35"/><circle cx="114.20" cy="171.70" r="1.55" fill="#4fabe0" stroke="#2f82b8" stroke-width="0.35"/><circle cx="111.46" cy="171.94" r="1.22" fill="#e84a42" stroke="#b8362f" stroke-width="0.35"/><circle cx="108.72" cy="172.18" r="1.55" fill="#4fabe0" stroke="#2f82b8" stroke-width="0.35"/><circle cx="139.10" cy="172.29" r="1.55" fill="#4fabe0" stroke="#2f82b8" stroke-width="0.35"/><circle cx="105.98" cy="172.42" r="1.22" fill="#e84a42" stroke="#b8362f" stroke-width="0.35"/><circle cx="136.36" cy="172.53" r="1.22" fill="#e84a42" stroke="#b8362f" stroke-width="0.35"/><circle cx="133.62" cy="172.77" r="1.55" fill="#4fabe0" stroke="#2f82b8" stroke-width="0.35"/><circle cx="130.88" cy="173.01" r="1.22" fill="#e84a42" stroke="#b8362f" stroke-width="0.35"/><circle cx="128.14" cy="173.25" r="1.55" fill="#4fabe0" stroke="#2f82b8" stroke-width="0.35"/><circle cx="125.40" cy="173.49" r="1.22" fill="#e84a42" stroke="#b8362f" stroke-width="0.35"/><circle cx="122.66" cy="173.73" r="1.22" fill="#fbf8f4" stroke="#b89c8a" stroke-width="0.35"/><circle cx="119.92" cy="173.96" r="1.22" fill="#e84a42" stroke="#b8362f" stroke-width="0.35"/><circle cx="117.18" cy="174.20" r="1.55" fill="#4fabe0" stroke="#2f82b8" stroke-width="0.35"/><circle cx="114.44" cy="174.44" r="1.22" fill="#e84a42" stroke="#b8362f" stroke-width="0.35"/><circle cx="111.70" cy="174.68" r="1.55" fill="#4fabe0" stroke="#2f82b8" stroke-width="0.35"/><circle cx="108.96" cy="174.92" r="1.22" fill="#e84a42" stroke="#b8362f" stroke-width="0.35"/><circle cx="139.33" cy="175.03" r="1.22" fill="#e84a42" stroke="#b8362f" stroke-width="0.35"/><circle cx="106.22" cy="175.16" r="1.55" fill="#4fabe0" stroke="#2f82b8" stroke-width="0.35"/><circle cx="136.60" cy="175.27" r="1.22" fill="#fbf8f4" stroke="#b89c8a" stroke-width="0.35"/><circle cx="133.86" cy="175.51" r="1.22" fill="#e84a42" stroke="#b8362f" stroke-width="0.35"/><circle cx="131.12" cy="175.75" r="1.55" fill="#4fabe0" stroke="#2f82b8" stroke-width="0.35"/><circle cx="128.38" cy="175.99" r="1.22" fill="#e84a42" stroke="#b8362f" stroke-width="0.35"/><circle cx="125.64" cy="176.23" r="1.55" fill="#4fabe0" stroke="#2f82b8" stroke-width="0.35"/><circle cx="122.90" cy="176.46" r="1.22" fill="#e84a42" stroke="#b8362f" stroke-width="0.35"/><circle cx="120.16" cy="176.70" r="1.55" fill="#4fabe0" stroke="#2f82b8" stroke-width="0.35"/><circle cx="117.42" cy="176.94" r="1.22" fill="#e84a42" stroke="#b8362f" stroke-width="0.35"/><circle cx="114.68" cy="177.18" r="1.55" fill="#4fabe0" stroke="#2f82b8" stroke-width="0.35"/><circle cx="111.94" cy="177.42" r="1.22" fill="#e84a42" stroke="#b8362f" stroke-width="0.35"/><circle cx="109.20" cy="177.66" r="1.55" fill="#4fabe0" stroke="#2f82b8" stroke-width="0.35"/><circle cx="139.57" cy="177.77" r="1.55" fill="#4fabe0" stroke="#2f82b8" stroke-width="0.35"/><circle cx="106.46" cy="177.90" r="1.22" fill="#fbf8f4" stroke="#b89c8a" stroke-width="0.35"/><circle cx="136.83" cy="178.01" r="1.22" fill="#fbf8f4" stroke="#b89c8a" stroke-width="0.35"/><circle cx="134.10" cy="178.25" r="1.55" fill="#4fabe0" stroke="#2f82b8" stroke-width="0.35"/><circle cx="131.36" cy="178.49" r="1.22" fill="#fbf8f4" stroke="#b89c8a" stroke-width="0.35"/><circle cx="128.62" cy="178.72" r="1.55" fill="#4fabe0" stroke="#2f82b8" stroke-width="0.35"/><circle cx="125.88" cy="178.96" r="1.22" fill="#e84a42" stroke="#b8362f" stroke-width="0.35"/><circle cx="123.14" cy="179.20" r="1.55" fill="#4fabe0" stroke="#2f82b8" stroke-width="0.35"/><circle cx="120.40" cy="179.44" r="1.22" fill="#e84a42" stroke="#b8362f" stroke-width="0.35"/><circle cx="117.66" cy="179.68" r="1.55" fill="#4fabe0" stroke="#2f82b8" stroke-width="0.35"/><circle cx="114.92" cy="179.92" r="1.22" fill="#e84a42" stroke="#b8362f" stroke-width="0.35"/><circle cx="112.18" cy="180.16" r="1.55" fill="#4fabe0" stroke="#2f82b8" stroke-width="0.35"/><circle cx="109.44" cy="180.40" r="1.22" fill="#e84a42" stroke="#b8362f" stroke-width="0.35"/><circle cx="139.81" cy="180.51" r="1.22" fill="#e84a42" stroke="#b8362f" stroke-width="0.35"/><circle cx="106.70" cy="180.64" r="1.55" fill="#4fabe0" stroke="#2f82b8" stroke-width="0.35"/><circle cx="137.07" cy="180.75" r="1.55" fill="#4fabe0" stroke="#2f82b8" stroke-width="0.35"/><circle cx="134.34" cy="180.99" r="1.22" fill="#e84a42" stroke="#b8362f" stroke-width="0.35"/><circle cx="131.60" cy="181.22" r="1.55" fill="#4fabe0" stroke="#2f82b8" stroke-width="0.35"/><circle cx="128.86" cy="181.46" r="1.22" fill="#e84a42" stroke="#b8362f" stroke-width="0.35"/><circle cx="126.12" cy="181.70" r="1.55" fill="#4fabe0" stroke="#2f82b8" stroke-width="0.35"/><circle cx="123.38" cy="181.94" r="1.22" fill="#e84a42" stroke="#b8362f" stroke-width="0.35"/><circle cx="120.64" cy="182.18" r="1.55" fill="#4fabe0" stroke="#2f82b8" stroke-width="0.35"/><circle cx="117.90" cy="182.42" r="1.22" fill="#e84a42" stroke="#b8362f" stroke-width="0.35"/><circle cx="115.16" cy="182.66" r="1.55" fill="#4fabe0" stroke="#2f82b8" stroke-width="0.35"/><circle cx="112.42" cy="182.90" r="1.22" fill="#e84a42" stroke="#b8362f" stroke-width="0.35"/><circle cx="142.79" cy="183.01" r="1.22" fill="#e84a42" stroke="#b8362f" stroke-width="0.35"/><circle cx="109.68" cy="183.14" r="1.55" fill="#4fabe0" stroke="#2f82b8" stroke-width="0.35"/><circle cx="140.05" cy="183.25" r="1.55" fill="#4fabe0" stroke="#2f82b8" stroke-width="0.35"/><circle cx="106.94" cy="183.38" r="1.22" fill="#e84a42" stroke="#b8362f" stroke-width="0.35"/><circle cx="137.31" cy="183.48" r="1.22" fill="#e84a42" stroke="#b8362f" stroke-width="0.35"/><circle cx="134.57" cy="183.72" r="1.55" fill="#4fabe0" stroke="#2f82b8" stroke-width="0.35"/><circle cx="131.84" cy="183.96" r="1.22" fill="#e84a42" stroke="#b8362f" stroke-width="0.35"/><circle cx="129.10" cy="184.20" r="1.55" fill="#4fabe0" stroke="#2f82b8" stroke-width="0.35"/><circle cx="126.36" cy="184.44" r="1.22" fill="#e84a42" stroke="#b8362f" stroke-width="0.35"/><circle cx="123.62" cy="184.68" r="1.55" fill="#4fabe0" stroke="#2f82b8" stroke-width="0.35"/><circle cx="120.88" cy="184.92" r="1.22" fill="#fbf8f4" stroke="#b89c8a" stroke-width="0.35"/><circle cx="118.14" cy="185.16" r="1.55" fill="#4fabe0" stroke="#2f82b8" stroke-width="0.35"/><circle cx="115.40" cy="185.40" r="1.22" fill="#e84a42" stroke="#b8362f" stroke-width="0.35"/><circle cx="112.66" cy="185.64" r="1.55" fill="#4fabe0" stroke="#2f82b8" stroke-width="0.35"/><circle cx="143.03" cy="185.75" r="1.55" fill="#4fabe0" stroke="#2f82b8" stroke-width="0.35"/><circle cx="109.92" cy="185.88" r="1.22" fill="#e84a42" stroke="#b8362f" stroke-width="0.35"/><circle cx="140.29" cy="185.98" r="1.22" fill="#e84a42" stroke="#b8362f" stroke-width="0.35"/><circle cx="107.18" cy="186.12" r="1.55" fill="#4fabe0" stroke="#2f82b8" stroke-width="0.35"/><circle cx="137.55" cy="186.22" r="1.55" fill="#4fabe0" stroke="#2f82b8" stroke-width="0.35"/><circle cx="134.81" cy="186.46" r="1.22" fill="#e84a42" stroke="#b8362f" stroke-width="0.35"/><circle cx="132.07" cy="186.70" r="1.55" fill="#4fabe0" stroke="#2f82b8" stroke-width="0.35"/><circle cx="129.34" cy="186.94" r="1.22" fill="#e84a42" stroke="#b8362f" stroke-width="0.35"/><circle cx="126.60" cy="187.18" r="1.55" fill="#4fabe0" stroke="#2f82b8" stroke-width="0.35"/><circle cx="123.86" cy="187.42" r="1.22" fill="#e84a42" stroke="#b8362f" stroke-width="0.35"/><circle cx="121.12" cy="187.66" r="1.55" fill="#4fabe0" stroke="#2f82b8" stroke-width="0.35"/><circle cx="118.38" cy="187.90" r="1.22" fill="#fbf8f4" stroke="#b89c8a" stroke-width="0.35"/><circle cx="115.64" cy="188.14" r="1.55" fill="#4fabe0" stroke="#2f82b8" stroke-width="0.35"/><circle cx="112.90" cy="188.38" r="1.22" fill="#e84a42" stroke="#b8362f" stroke-width="0.35"/><circle cx="143.27" cy="188.48" r="1.22" fill="#fbf8f4" stroke="#b89c8a" stroke-width="0.35"/><circle cx="110.16" cy="188.62" r="1.55" fill="#4fabe0" stroke="#2f82b8" stroke-width="0.35"/><circle cx="140.53" cy="188.72" r="1.55" fill="#4fabe0" stroke="#2f82b8" stroke-width="0.35"/><circle cx="107.42" cy="188.86" r="1.22" fill="#e84a42" stroke="#b8362f" stroke-width="0.35"/><circle cx="137.79" cy="188.96" r="1.22" fill="#e84a42" stroke="#b8362f" stroke-width="0.35"/><circle cx="135.05" cy="189.20" r="1.55" fill="#4fabe0" stroke="#2f82b8" stroke-width="0.35"/><circle cx="132.31" cy="189.44" r="1.22" fill="#e84a42" stroke="#b8362f" stroke-width="0.35"/><circle cx="129.58" cy="189.68" r="1.55" fill="#4fabe0" stroke="#2f82b8" stroke-width="0.35"/><circle cx="126.84" cy="189.92" r="1.22" fill="#e84a42" stroke="#b8362f" stroke-width="0.35"/><circle cx="124.10" cy="190.16" r="1.55" fill="#4fabe0" stroke="#2f82b8" stroke-width="0.35"/><circle cx="121.36" cy="190.40" r="1.22" fill="#e84a42" stroke="#b8362f" stroke-width="0.35"/><circle cx="118.62" cy="190.64" r="1.55" fill="#4fabe0" stroke="#2f82b8" stroke-width="0.35"/><circle cx="115.88" cy="190.88" r="1.22" fill="#e84a42" stroke="#b8362f" stroke-width="0.35"/><circle cx="113.14" cy="191.12" r="1.55" fill="#4fabe0" stroke="#2f82b8" stroke-width="0.35"/><circle cx="143.51" cy="191.22" r="1.55" fill="#4fabe0" stroke="#2f82b8" stroke-width="0.35"/><circle cx="110.40" cy="191.36" r="1.22" fill="#e84a42" stroke="#b8362f" stroke-width="0.35"/><circle cx="140.77" cy="191.46" r="1.22" fill="#e84a42" stroke="#b8362f" stroke-width="0.35"/><circle cx="107.66" cy="191.60" r="1.55" fill="#4fabe0" stroke="#2f82b8" stroke-width="0.35"/><circle cx="138.03" cy="191.70" r="1.55" fill="#4fabe0" stroke="#2f82b8" stroke-width="0.35"/><circle cx="135.29" cy="191.94" r="1.22" fill="#e84a42" stroke="#b8362f" stroke-width="0.35"/><circle cx="132.55" cy="192.18" r="1.55" fill="#4fabe0" stroke="#2f82b8" stroke-width="0.35"/><circle cx="129.81" cy="192.42" r="1.22" fill="#fbf8f4" stroke="#b89c8a" stroke-width="0.35"/><circle cx="127.08" cy="192.66" r="1.55" fill="#4fabe0" stroke="#2f82b8" stroke-width="0.35"/><circle cx="124.34" cy="192.90" r="1.22" fill="#fbf8f4" stroke="#b89c8a" stroke-width="0.35"/><circle cx="121.60" cy="193.14" r="1.55" fill="#4fabe0" stroke="#2f82b8" stroke-width="0.35"/><circle cx="118.86" cy="193.38" r="1.22" fill="#e84a42" stroke="#b8362f" stroke-width="0.35"/><circle cx="116.12" cy="193.62" r="1.55" fill="#4fabe0" stroke="#2f82b8" stroke-width="0.35"/><circle cx="113.38" cy="193.86" r="1.22" fill="#e84a42" stroke="#b8362f" stroke-width="0.35"/><circle cx="143.75" cy="193.96" r="1.22" fill="#e84a42" stroke="#b8362f" stroke-width="0.35"/><circle cx="110.64" cy="194.10" r="1.55" fill="#4fabe0" stroke="#2f82b8" stroke-width="0.35"/><circle cx="141.01" cy="194.20" r="1.55" fill="#4fabe0" stroke="#2f82b8" stroke-width="0.35"/><circle cx="107.90" cy="194.34" r="1.22" fill="#e84a42" stroke="#b8362f" stroke-width="0.35"/><circle cx="138.27" cy="194.44" r="1.22" fill="#e84a42" stroke="#b8362f" stroke-width="0.35"/><circle cx="135.53" cy="194.68" r="1.55" fill="#4fabe0" stroke="#2f82b8" stroke-width="0.35"/><circle cx="132.79" cy="194.92" r="1.22" fill="#e84a42" stroke="#b8362f" stroke-width="0.35"/><circle cx="130.05" cy="195.16" r="1.55" fill="#4fabe0" stroke="#2f82b8" stroke-width="0.35"/><circle cx="127.31" cy="195.40" r="1.22" fill="#e84a42" stroke="#b8362f" stroke-width="0.35"/><circle cx="124.58" cy="195.64" r="1.55" fill="#4fabe0" stroke="#2f82b8" stroke-width="0.35"/><circle cx="121.84" cy="195.88" r="1.22" fill="#fbf8f4" stroke="#b89c8a" stroke-width="0.35"/><circle cx="119.10" cy="196.12" r="1.55" fill="#4fabe0" stroke="#2f82b8" stroke-width="0.35"/><circle cx="116.36" cy="196.36" r="1.22" fill="#e84a42" stroke="#b8362f" stroke-width="0.35"/><circle cx="113.62" cy="196.60" r="1.55" fill="#4fabe0" stroke="#2f82b8" stroke-width="0.35"/><circle cx="110.88" cy="196.84" r="1.22" fill="#e84a42" stroke="#b8362f" stroke-width="0.35"/><circle cx="108.14" cy="197.08" r="1.55" fill="#4fabe0" stroke="#2f82b8" stroke-width="0.35"/><circle cx="138.51" cy="197.18" r="1.55" fill="#4fabe0" stroke="#2f82b8" stroke-width="0.35"/><circle cx="135.77" cy="197.42" r="1.22" fill="#e84a42" stroke="#b8362f" stroke-width="0.35"/><circle cx="133.03" cy="197.66" r="1.55" fill="#4fabe0" stroke="#2f82b8" stroke-width="0.35"/><circle cx="130.29" cy="197.90" r="1.22" fill="#e84a42" stroke="#b8362f" stroke-width="0.35"/><circle cx="127.55" cy="198.14" r="1.55" fill="#4fabe0" stroke="#2f82b8" stroke-width="0.35"/><circle cx="124.82" cy="198.38" r="1.22" fill="#fbf8f4" stroke="#b89c8a" stroke-width="0.35"/><circle cx="122.08" cy="198.62" r="1.55" fill="#4fabe0" stroke="#2f82b8" stroke-width="0.35"/><circle cx="119.34" cy="198.86" r="1.22" fill="#e84a42" stroke="#b8362f" stroke-width="0.35"/><circle cx="116.60" cy="199.10" r="1.55" fill="#4fabe0" stroke="#2f82b8" stroke-width="0.35"/><circle cx="113.86" cy="199.34" r="1.22" fill="#fbf8f4" stroke="#b89c8a" stroke-width="0.35"/><circle cx="111.12" cy="199.58" r="1.55" fill="#4fabe0" stroke="#2f82b8" stroke-width="0.35"/><circle cx="133.27" cy="200.40" r="1.22" fill="#e84a42" stroke="#b8362f" stroke-width="0.35"/><circle cx="130.53" cy="200.64" r="1.55" fill="#4fabe0" stroke="#2f82b8" stroke-width="0.35"/><circle cx="127.79" cy="200.88" r="1.22" fill="#e84a42" stroke="#b8362f" stroke-width="0.35"/><circle cx="125.05" cy="201.12" r="1.55" fill="#4fabe0" stroke="#2f82b8" stroke-width="0.35"/><circle cx="122.32" cy="201.36" r="1.22" fill="#e84a42" stroke="#b8362f" stroke-width="0.35"/><circle cx="119.58" cy="201.60" r="1.55" fill="#4fabe0" stroke="#2f82b8" stroke-width="0.35"/><circle cx="116.84" cy="201.84" r="1.22" fill="#e84a42" stroke="#b8362f" stroke-width="0.35"/><circle cx="130.77" cy="203.38" r="1.22" fill="#fbf8f4" stroke="#b89c8a" stroke-width="0.35"/><circle cx="128.03" cy="203.62" r="1.55" fill="#4fabe0" stroke="#2f82b8" stroke-width="0.35"/><circle cx="125.29" cy="203.86" r="1.22" fill="#e84a42" stroke="#b8362f" stroke-width="0.35"/><circle cx="122.55" cy="204.10" r="1.55" fill="#4fabe0" stroke="#2f82b8" stroke-width="0.35"/><circle cx="119.82" cy="204.34" r="1.22" fill="#e84a42" stroke="#b8362f" stroke-width="0.35"/><circle cx="125.53" cy="206.60" r="1.55" fill="#4fabe0" stroke="#2f82b8" stroke-width="0.35"/></g>
<clipPath id="nc3"><path d="M120.90 239.60 L137.90 246.60 L141.00 265.20 L123.20 279.10 L106.20 268.30 L105.40 248.90Z"/></clipPath>
<g clip-path="url(#nc3)"><path d="M120.90 239.60 L137.90 246.60 L141.00 265.20 L123.20 279.10 L106.20 268.30 L105.40 248.90Z" fill="#f4efea"/><circle cx="120.76" cy="238.77" r="1.22" fill="#fbf8f4" stroke="#b89c8a" stroke-width="0.35"/><circle cx="126.47" cy="241.03" r="1.55" fill="#4fabe0" stroke="#2f82b8" stroke-width="0.35"/><circle cx="123.73" cy="241.27" r="1.22" fill="#e84a42" stroke="#b8362f" stroke-width="0.35"/><circle cx="121.00" cy="241.51" r="1.55" fill="#4fabe0" stroke="#2f82b8" stroke-width="0.35"/><circle cx="118.26" cy="241.75" r="1.22" fill="#e84a42" stroke="#b8362f" stroke-width="0.35"/><circle cx="115.52" cy="241.99" r="1.55" fill="#4fabe0" stroke="#2f82b8" stroke-width="0.35"/><circle cx="132.19" cy="243.29" r="1.22" fill="#e84a42" stroke="#b8362f" stroke-width="0.35"/><circle cx="129.45" cy="243.53" r="1.55" fill="#4fabe0" stroke="#2f82b8" stroke-width="0.35"/><circle cx="126.71" cy="243.77" r="1.22" fill="#e84a42" stroke="#b8362f" stroke-width="0.35"/><circle cx="123.97" cy="244.01" r="1.55" fill="#4fabe0" stroke="#2f82b8" stroke-width="0.35"/><circle cx="121.23" cy="244.25" r="1.22" fill="#e84a42" stroke="#b8362f" stroke-width="0.35"/><circle cx="118.50" cy="244.49" r="1.55" fill="#4fabe0" stroke="#2f82b8" stroke-width="0.35"/><circle cx="115.76" cy="244.73" r="1.22" fill="#e84a42" stroke="#b8362f" stroke-width="0.35"/><circle cx="113.02" cy="244.97" r="1.55" fill="#4fabe0" stroke="#2f82b8" stroke-width="0.35"/><circle cx="110.28" cy="245.21" r="1.22" fill="#e84a42" stroke="#b8362f" stroke-width="0.35"/><circle cx="137.91" cy="245.55" r="1.55" fill="#4fabe0" stroke="#2f82b8" stroke-width="0.35"/><circle cx="135.17" cy="245.79" r="1.22" fill="#e84a42" stroke="#b8362f" stroke-width="0.35"/><circle cx="132.43" cy="246.03" r="1.55" fill="#4fabe0" stroke="#2f82b8" stroke-width="0.35"/><circle cx="129.69" cy="246.27" r="1.22" fill="#e84a42" stroke="#b8362f" stroke-width="0.35"/><circle cx="126.95" cy="246.51" r="1.55" fill="#4fabe0" stroke="#2f82b8" stroke-width="0.35"/><circle cx="124.21" cy="246.75" r="1.22" fill="#fbf8f4" stroke="#b89c8a" stroke-width="0.35"/><circle cx="121.47" cy="246.99" r="1.55" fill="#4fabe0" stroke="#2f82b8" stroke-width="0.35"/><circle cx="118.74" cy="247.23" r="1.22" fill="#e84a42" stroke="#b8362f" stroke-width="0.35"/><circle cx="116.00" cy="247.47" r="1.55" fill="#4fabe0" stroke="#2f82b8" stroke-width="0.35"/><circle cx="113.26" cy="247.71" r="1.22" fill="#e84a42" stroke="#b8362f" stroke-width="0.35"/><circle cx="110.52" cy="247.95" r="1.55" fill="#4fabe0" stroke="#2f82b8" stroke-width="0.35"/><circle cx="107.78" cy="248.19" r="1.22" fill="#e84a42" stroke="#b8362f" stroke-width="0.35"/><circle cx="138.15" cy="248.29" r="1.22" fill="#e84a42" stroke="#b8362f" stroke-width="0.35"/><circle cx="105.04" cy="248.43" r="1.55" fill="#4fabe0" stroke="#2f82b8" stroke-width="0.35"/><circle cx="135.41" cy="248.53" r="1.55" fill="#4fabe0" stroke="#2f82b8" stroke-width="0.35"/><circle cx="132.67" cy="248.77" r="1.22" fill="#e84a42" stroke="#b8362f" stroke-width="0.35"/><circle cx="129.93" cy="249.01" r="1.22" fill="#fbf8f4" stroke="#b89c8a" stroke-width="0.35"/><circle cx="127.19" cy="249.25" r="1.22" fill="#e84a42" stroke="#b8362f" stroke-width="0.35"/><circle cx="124.45" cy="249.49" r="1.55" fill="#4fabe0" stroke="#2f82b8" stroke-width="0.35"/><circle cx="121.71" cy="249.73" r="1.22" fill="#fbf8f4" stroke="#b89c8a" stroke-width="0.35"/><circle cx="118.97" cy="249.97" r="1.55" fill="#4fabe0" stroke="#2f82b8" stroke-width="0.35"/><circle cx="116.24" cy="250.21" r="1.22" fill="#e84a42" stroke="#b8362f" stroke-width="0.35"/><circle cx="113.50" cy="250.45" r="1.55" fill="#4fabe0" stroke="#2f82b8" stroke-width="0.35"/><circle cx="110.76" cy="250.69" r="1.22" fill="#fbf8f4" stroke="#b89c8a" stroke-width="0.35"/><circle cx="108.02" cy="250.93" r="1.22" fill="#fbf8f4" stroke="#b89c8a" stroke-width="0.35"/><circle cx="138.39" cy="251.03" r="1.55" fill="#4fabe0" stroke="#2f82b8" stroke-width="0.35"/><circle cx="105.28" cy="251.17" r="1.22" fill="#fbf8f4" stroke="#b89c8a" stroke-width="0.35"/><circle cx="135.65" cy="251.27" r="1.22" fill="#e84a42" stroke="#b8362f" stroke-width="0.35"/><circle cx="132.91" cy="251.51" r="1.55" fill="#4fabe0" stroke="#2f82b8" stroke-width="0.35"/><circle cx="130.17" cy="251.75" r="1.22" fill="#e84a42" stroke="#b8362f" stroke-width="0.35"/><circle cx="127.43" cy="251.99" r="1.55" fill="#4fabe0" stroke="#2f82b8" stroke-width="0.35"/><circle cx="124.69" cy="252.23" r="1.22" fill="#e84a42" stroke="#b8362f" stroke-width="0.35"/><circle cx="121.95" cy="252.47" r="1.55" fill="#4fabe0" stroke="#2f82b8" stroke-width="0.35"/><circle cx="119.21" cy="252.71" r="1.22" fill="#fbf8f4" stroke="#b89c8a" stroke-width="0.35"/><circle cx="116.47" cy="252.95" r="1.55" fill="#4fabe0" stroke="#2f82b8" stroke-width="0.35"/><circle cx="113.74" cy="253.19" r="1.22" fill="#e84a42" stroke="#b8362f" stroke-width="0.35"/><circle cx="111.00" cy="253.43" r="1.55" fill="#4fabe0" stroke="#2f82b8" stroke-width="0.35"/><circle cx="108.26" cy="253.67" r="1.22" fill="#e84a42" stroke="#b8362f" stroke-width="0.35"/><circle cx="138.63" cy="253.77" r="1.22" fill="#e84a42" stroke="#b8362f" stroke-width="0.35"/><circle cx="105.52" cy="253.91" r="1.55" fill="#4fabe0" stroke="#2f82b8" stroke-width="0.35"/><circle cx="135.89" cy="254.01" r="1.55" fill="#4fabe0" stroke="#2f82b8" stroke-width="0.35"/><circle cx="133.15" cy="254.25" r="1.22" fill="#e84a42" stroke="#b8362f" stroke-width="0.35"/><circle cx="130.41" cy="254.49" r="1.55" fill="#4fabe0" stroke="#2f82b8" stroke-width="0.35"/><circle cx="127.67" cy="254.73" r="1.22" fill="#e84a42" stroke="#b8362f" stroke-width="0.35"/><circle cx="124.93" cy="254.97" r="1.55" fill="#4fabe0" stroke="#2f82b8" stroke-width="0.35"/><circle cx="122.19" cy="255.21" r="1.22" fill="#e84a42" stroke="#b8362f" stroke-width="0.35"/><circle cx="119.45" cy="255.45" r="1.55" fill="#4fabe0" stroke="#2f82b8" stroke-width="0.35"/><circle cx="116.71" cy="255.69" r="1.22" fill="#e84a42" stroke="#b8362f" stroke-width="0.35"/><circle cx="113.98" cy="255.93" r="1.55" fill="#4fabe0" stroke="#2f82b8" stroke-width="0.35"/><circle cx="111.24" cy="256.17" r="1.22" fill="#e84a42" stroke="#b8362f" stroke-width="0.35"/><circle cx="108.50" cy="256.41" r="1.55" fill="#4fabe0" stroke="#2f82b8" stroke-width="0.35"/><circle cx="138.87" cy="256.51" r="1.55" fill="#4fabe0" stroke="#2f82b8" stroke-width="0.35"/><circle cx="105.76" cy="256.65" r="1.22" fill="#e84a42" stroke="#b8362f" stroke-width="0.35"/><circle cx="136.13" cy="256.75" r="1.22" fill="#e84a42" stroke="#b8362f" stroke-width="0.35"/><circle cx="133.39" cy="256.99" r="1.55" fill="#4fabe0" stroke="#2f82b8" stroke-width="0.35"/><circle cx="130.65" cy="257.23" r="1.22" fill="#e84a42" stroke="#b8362f" stroke-width="0.35"/><circle cx="127.91" cy="257.47" r="1.55" fill="#4fabe0" stroke="#2f82b8" stroke-width="0.35"/><circle cx="125.17" cy="257.71" r="1.22" fill="#e84a42" stroke="#b8362f" stroke-width="0.35"/><circle cx="122.43" cy="257.95" r="1.55" fill="#4fabe0" stroke="#2f82b8" stroke-width="0.35"/><circle cx="119.69" cy="258.19" r="1.22" fill="#e84a42" stroke="#b8362f" stroke-width="0.35"/><circle cx="116.95" cy="258.43" r="1.55" fill="#4fabe0" stroke="#2f82b8" stroke-width="0.35"/><circle cx="114.21" cy="258.67" r="1.22" fill="#e84a42" stroke="#b8362f" stroke-width="0.35"/><circle cx="111.48" cy="258.91" r="1.55" fill="#4fabe0" stroke="#2f82b8" stroke-width="0.35"/><circle cx="108.74" cy="259.15" r="1.22" fill="#e84a42" stroke="#b8362f" stroke-width="0.35"/><circle cx="139.11" cy="259.25" r="1.22" fill="#e84a42" stroke="#b8362f" stroke-width="0.35"/><circle cx="106.00" cy="259.39" r="1.55" fill="#4fabe0" stroke="#2f82b8" stroke-width="0.35"/><circle cx="136.37" cy="259.49" r="1.55" fill="#4fabe0" stroke="#2f82b8" stroke-width="0.35"/><circle cx="133.63" cy="259.73" r="1.22" fill="#e84a42" stroke="#b8362f" stroke-width="0.35"/><circle cx="130.89" cy="259.97" r="1.55" fill="#4fabe0" stroke="#2f82b8" stroke-width="0.35"/><circle cx="128.15" cy="260.21" r="1.22" fill="#e84a42" stroke="#b8362f" stroke-width="0.35"/><circle cx="125.41" cy="260.45" r="1.55" fill="#4fabe0" stroke="#2f82b8" stroke-width="0.35"/><circle cx="122.67" cy="260.69" r="1.22" fill="#fbf8f4" stroke="#b89c8a" stroke-width="0.35"/><circle cx="119.93" cy="260.93" r="1.55" fill="#4fabe0" stroke="#2f82b8" stroke-width="0.35"/><circle cx="117.19" cy="261.17" r="1.22" fill="#e84a42" stroke="#b8362f" stroke-width="0.35"/><circle cx="114.45" cy="261.41" r="1.55" fill="#4fabe0" stroke="#2f82b8" stroke-width="0.35"/><circle cx="111.71" cy="261.65" r="1.22" fill="#e84a42" stroke="#b8362f" stroke-width="0.35"/><circle cx="108.98" cy="261.89" r="1.55" fill="#4fabe0" stroke="#2f82b8" stroke-width="0.35"/><circle cx="139.35" cy="261.99" r="1.55" fill="#4fabe0" stroke="#2f82b8" stroke-width="0.35"/><circle cx="106.24" cy="262.13" r="1.22" fill="#e84a42" stroke="#b8362f" stroke-width="0.35"/><circle cx="136.61" cy="262.23" r="1.22" fill="#e84a42" stroke="#b8362f" stroke-width="0.35"/><circle cx="133.87" cy="262.47" r="1.55" fill="#4fabe0" stroke="#2f82b8" stroke-width="0.35"/><circle cx="131.13" cy="262.71" r="1.22" fill="#e84a42" stroke="#b8362f" stroke-width="0.35"/><circle cx="128.39" cy="262.95" r="1.55" fill="#4fabe0" stroke="#2f82b8" stroke-width="0.35"/><circle cx="125.65" cy="263.19" r="1.22" fill="#e84a42" stroke="#b8362f" stroke-width="0.35"/><circle cx="122.91" cy="263.43" r="1.55" fill="#4fabe0" stroke="#2f82b8" stroke-width="0.35"/><circle cx="120.17" cy="263.67" r="1.22" fill="#e84a42" stroke="#b8362f" stroke-width="0.35"/><circle cx="117.43" cy="263.91" r="1.55" fill="#4fabe0" stroke="#2f82b8" stroke-width="0.35"/><circle cx="114.69" cy="264.15" r="1.22" fill="#e84a42" stroke="#b8362f" stroke-width="0.35"/><circle cx="111.95" cy="264.39" r="1.55" fill="#4fabe0" stroke="#2f82b8" stroke-width="0.35"/><circle cx="109.22" cy="264.63" r="1.22" fill="#e84a42" stroke="#b8362f" stroke-width="0.35"/><circle cx="139.59" cy="264.73" r="1.22" fill="#e84a42" stroke="#b8362f" stroke-width="0.35"/><circle cx="106.48" cy="264.87" r="1.55" fill="#4fabe0" stroke="#2f82b8" stroke-width="0.35"/><circle cx="136.85" cy="264.97" r="1.55" fill="#4fabe0" stroke="#2f82b8" stroke-width="0.35"/><circle cx="134.11" cy="265.21" r="1.22" fill="#fbf8f4" stroke="#b89c8a" stroke-width="0.35"/><circle cx="131.37" cy="265.45" r="1.55" fill="#4fabe0" stroke="#2f82b8" stroke-width="0.35"/><circle cx="128.63" cy="265.69" r="1.22" fill="#e84a42" stroke="#b8362f" stroke-width="0.35"/><circle cx="125.89" cy="265.93" r="1.55" fill="#4fabe0" stroke="#2f82b8" stroke-width="0.35"/><circle cx="123.15" cy="266.17" r="1.22" fill="#e84a42" stroke="#b8362f" stroke-width="0.35"/><circle cx="120.41" cy="266.41" r="1.55" fill="#4fabe0" stroke="#2f82b8" stroke-width="0.35"/><circle cx="117.67" cy="266.65" r="1.22" fill="#e84a42" stroke="#b8362f" stroke-width="0.35"/><circle cx="114.93" cy="266.89" r="1.55" fill="#4fabe0" stroke="#2f82b8" stroke-width="0.35"/><circle cx="112.19" cy="267.13" r="1.22" fill="#e84a42" stroke="#b8362f" stroke-width="0.35"/><circle cx="109.45" cy="267.37" r="1.55" fill="#4fabe0" stroke="#2f82b8" stroke-width="0.35"/><circle cx="106.72" cy="267.61" r="1.22" fill="#e84a42" stroke="#b8362f" stroke-width="0.35"/><circle cx="137.09" cy="267.71" r="1.22" fill="#e84a42" stroke="#b8362f" stroke-width="0.35"/><circle cx="134.35" cy="267.95" r="1.55" fill="#4fabe0" stroke="#2f82b8" stroke-width="0.35"/><circle cx="131.61" cy="268.19" r="1.22" fill="#e84a42" stroke="#b8362f" stroke-width="0.35"/><circle cx="128.87" cy="268.43" r="1.55" fill="#4fabe0" stroke="#2f82b8" stroke-width="0.35"/><circle cx="126.13" cy="268.67" r="1.22" fill="#e84a42" stroke="#b8362f" stroke-width="0.35"/><circle cx="123.39" cy="268.91" r="1.55" fill="#4fabe0" stroke="#2f82b8" stroke-width="0.35"/><circle cx="120.65" cy="269.15" r="1.22" fill="#fbf8f4" stroke="#b89c8a" stroke-width="0.35"/><circle cx="117.91" cy="269.39" r="1.55" fill="#4fabe0" stroke="#2f82b8" stroke-width="0.35"/><circle cx="115.17" cy="269.63" r="1.22" fill="#fbf8f4" stroke="#b89c8a" stroke-width="0.35"/><circle cx="112.43" cy="269.87" r="1.55" fill="#4fabe0" stroke="#2f82b8" stroke-width="0.35"/><circle cx="109.69" cy="270.11" r="1.22" fill="#fbf8f4" stroke="#b89c8a" stroke-width="0.35"/><circle cx="134.59" cy="270.69" r="1.22" fill="#e84a42" stroke="#b8362f" stroke-width="0.35"/><circle cx="131.85" cy="270.93" r="1.55" fill="#4fabe0" stroke="#2f82b8" stroke-width="0.35"/><circle cx="129.11" cy="271.17" r="1.22" fill="#e84a42" stroke="#b8362f" stroke-width="0.35"/><circle cx="126.37" cy="271.41" r="1.55" fill="#4fabe0" stroke="#2f82b8" stroke-width="0.35"/><circle cx="123.63" cy="271.65" r="1.22" fill="#e84a42" stroke="#b8362f" stroke-width="0.35"/><circle cx="120.89" cy="271.89" r="1.55" fill="#4fabe0" stroke="#2f82b8" stroke-width="0.35"/><circle cx="118.15" cy="272.13" r="1.22" fill="#e84a42" stroke="#b8362f" stroke-width="0.35"/><circle cx="115.41" cy="272.37" r="1.55" fill="#4fabe0" stroke="#2f82b8" stroke-width="0.35"/><circle cx="112.67" cy="272.61" r="1.22" fill="#e84a42" stroke="#b8362f" stroke-width="0.35"/><circle cx="129.35" cy="273.91" r="1.55" fill="#4fabe0" stroke="#2f82b8" stroke-width="0.35"/><circle cx="126.61" cy="274.15" r="1.22" fill="#e84a42" stroke="#b8362f" stroke-width="0.35"/><circle cx="123.87" cy="274.39" r="1.55" fill="#4fabe0" stroke="#2f82b8" stroke-width="0.35"/><circle cx="121.13" cy="274.63" r="1.22" fill="#fbf8f4" stroke="#b89c8a" stroke-width="0.35"/><circle cx="118.39" cy="274.87" r="1.55" fill="#4fabe0" stroke="#2f82b8" stroke-width="0.35"/><circle cx="115.65" cy="275.11" r="1.22" fill="#fbf8f4" stroke="#b89c8a" stroke-width="0.35"/><circle cx="126.85" cy="276.89" r="1.55" fill="#4fabe0" stroke="#2f82b8" stroke-width="0.35"/><circle cx="124.11" cy="277.13" r="1.22" fill="#e84a42" stroke="#b8362f" stroke-width="0.35"/><circle cx="121.37" cy="277.37" r="1.55" fill="#4fabe0" stroke="#2f82b8" stroke-width="0.35"/></g>
<path d="M92.8 108.6 Q98 102.2 108.5 101.9" fill="none" stroke="#4c9cd8" stroke-width="0.9" stroke-dasharray="2 1.4"/>
<text x="87.2" y="114.8" font-size="7.6" fill="#4c9cd8" textLength="3.6" lengthAdjust="spacingAndGlyphs">S</text>
<path d="M92.8 124.4 Q98 118.2 108.5 117.8" fill="none" stroke="#6e6460" stroke-width="0.9" stroke-dasharray="2 1.4"/>
<text x="87.2" y="130.8" font-size="7.6" fill="#6e6460" textLength="7.5" lengthAdjust="spacingAndGlyphs">Pb</text>
<path d="M90 186.6 Q95.5 180.5 105.8 180.4" fill="none" stroke="#f07474" stroke-width="0.9" stroke-dasharray="2 1.4"/>
<text x="81.5" y="193.9" font-size="7.6" fill="#f07474" textLength="8.9" lengthAdjust="spacingAndGlyphs">Cd</text>
<text x="261.70" y="12.20" font-size="13.39" fill="#111" text-anchor="start" stroke="#111" stroke-width="0.30" textLength="16.00" lengthAdjust="spacingAndGlyphs">(b)</text>
<rect x="296.50" y="1.20" width="177.50" height="131.40" fill="none" stroke="#555" stroke-width="1.1"/>
<path d="M306.50 132.60 V135.10 M320.73 132.60 V134.40 M334.95 132.60 V135.10 M349.18 132.60 V134.40 M363.40 132.60 V135.10 M377.62 132.60 V134.40 M391.85 132.60 V135.10 M406.07 132.60 V134.40 M420.30 132.60 V135.10 M434.52 132.60 V134.40 M448.75 132.60 V135.10 M462.98 132.60 V134.40 M296.50 14.70 H293.50 M296.50 73.60 H293.50 M296.50 132.60 H293.50" stroke="#555" stroke-width="1" fill="none"/>
<text x="305.30" y="146.00" font-size="8.86" fill="#151515" text-anchor="middle" stroke="#151515" stroke-width="0.30" textLength="17.40" lengthAdjust="spacingAndGlyphs">1000</text>
<text x="333.75" y="146.00" font-size="8.86" fill="#151515" text-anchor="middle" stroke="#151515" stroke-width="0.30" textLength="17.40" lengthAdjust="spacingAndGlyphs">1100</text>
<text x="362.20" y="146.00" font-size="8.86" fill="#151515" text-anchor="middle" stroke="#151515" stroke-width="0.30" textLength="17.40" lengthAdjust="spacingAndGlyphs">1200</text>
<text x="390.65" y="146.00" font-size="8.86" fill="#151515" text-anchor="middle" stroke="#151515" stroke-width="0.30" textLength="17.40" lengthAdjust="spacingAndGlyphs">1300</text>
<text x="419.10" y="146.00" font-size="8.86" fill="#151515" text-anchor="middle" stroke="#151515" stroke-width="0.30" textLength="17.40" lengthAdjust="spacingAndGlyphs">1400</text>
<text x="447.55" y="146.00" font-size="8.86" fill="#151515" text-anchor="middle" stroke="#151515" stroke-width="0.30" textLength="17.40" lengthAdjust="spacingAndGlyphs">1500</text>
<text x="381.00" y="160.00" font-size="9.94" fill="#151515" text-anchor="middle" stroke="#151515" stroke-width="0.30" textLength="69.50" lengthAdjust="spacingAndGlyphs">Wavelength (nm)</text>
<text x="289.80" y="20.00" font-size="9.29" fill="#151515" text-anchor="end" stroke="#151515" stroke-width="0.30">1</text>
<text x="289.90" y="135.20" font-size="8.86" fill="#151515" text-anchor="end" stroke="#151515" stroke-width="0.30">0</text>
<text transform="translate(279.4 73.4) rotate(-90)" font-size="9.4" fill="#1a1a1a" stroke="#1a1a1a" stroke-width="0.25" text-anchor="middle" textLength="82.7" lengthAdjust="spacingAndGlyphs">Normalized Intensity</text>
<text x="465.50" y="21.80" font-size="12.31" fill="#111" text-anchor="end" stroke="#111" stroke-width="0.30" textLength="30.50" lengthAdjust="spacingAndGlyphs">PbS-2</text>
<path d="M297.10 129.77 L298.10 129.36 L299.10 130.56 L300.10 129.17 L301.10 130.28 L302.10 129.87 L303.10 129.14 L304.10 130.21 L305.10 129.09 L306.10 130.04 L307.10 129.16 L308.10 129.21 L309.10 130.02 L310.10 130.98 L311.10 129.29 L312.10 129.53 L313.10 130.50 L314.10 131.27 L315.10 130.38 L316.10 129.94 L317.10 131.33 L318.10 129.10 L319.10 131.05 L320.10 129.68 L321.10 129.32 L322.10 129.26 L323.10 129.71 L324.10 130.92 L325.10 129.38 L326.10 130.33 L327.10 130.44 L328.10 129.78 L329.10 130.17 L330.10 128.97 L331.10 128.92 L332.10 129.21 L333.10 130.29 L334.10 129.60 L335.10 129.22 L336.10 129.75 L337.10 129.29 L338.10 128.74 L339.10 129.72 L340.10 129.24 L341.10 127.85 L342.10 128.29 L343.10 127.77 L344.10 128.13 L345.10 127.23 L346.10 125.53 L347.10 126.46 L348.10 123.55 L349.10 123.31 L350.10 123.04 L351.10 120.37 L352.10 119.81 L353.10 117.20 L354.10 117.01 L355.10 115.36 L356.10 112.84 L357.10 111.31 L358.10 107.50 L359.10 105.76 L360.10 102.65 L361.10 99.56 L362.10 96.00 L363.10 93.47 L364.10 90.09 L365.10 85.16 L366.10 81.67 L367.10 76.15 L368.10 73.51 L369.10 69.12 L370.10 65.65 L371.10 60.91 L372.10 55.32 L373.10 51.31 L374.10 47.84 L375.10 42.26 L376.10 39.46 L377.10 35.11 L378.10 31.58 L379.10 28.32 L380.10 27.21 L381.10 23.20 L382.10 21.38 L383.10 20.00 L384.10 19.84 L385.10 17.04 L386.10 17.45 L387.10 17.64 L388.10 18.80 L389.10 19.43 L390.10 20.72 L391.10 20.87 L392.10 23.11 L393.10 25.22 L394.10 29.03 L395.10 32.02 L396.10 33.14 L397.10 36.45 L398.10 40.00 L399.10 43.55 L400.10 47.80 L401.10 51.75 L402.10 54.70 L403.10 57.81 L404.10 62.50 L405.10 66.03 L406.10 70.07 L407.10 74.47 L408.10 77.20 L409.10 80.01 L410.10 83.36 L411.10 86.45 L412.10 87.77 L413.10 92.46 L414.10 94.68 L415.10 97.27 L416.10 99.30 L417.10 100.40 L418.10 102.36 L419.10 103.47 L420.10 106.44 L421.10 106.65 L422.10 108.14 L423.10 109.86 L424.10 111.04 L425.10 112.67 L426.10 113.11 L427.10 114.04 L428.10 115.40 L429.10 116.22 L430.10 117.73 L431.10 117.75 L432.10 120.57 L433.10 120.68 L434.10 120.26 L435.10 121.17 L436.10 122.03 L437.10 122.66 L438.10 122.63 L439.10 124.90 L440.10 125.74 L441.10 124.94 L442.10 125.42 L443.10 124.87 L444.10 125.29 L445.10 126.23 L446.10 126.37 L447.10 128.04 L448.10 126.72 L449.10 126.65 L450.10 129.12 L451.10 128.33 L452.10 127.62 L453.10 128.76 L454.10 127.69 L455.10 129.05 L456.10 130.27 L457.10 130.12 L458.10 129.83 L459.10 128.89 L460.10 129.24 L461.10 128.84 L462.10 130.36 L463.10 129.85 L464.10 130.50 L465.10 129.47 L466.10 129.26 L467.10 130.71 L468.10 131.16 L469.10 130.87 L470.10 130.79 L471.10 130.84 L472.10 130.67 L473.10 129.45" fill="none" stroke="#333" stroke-width="0.9"/>
<path d="M297.10 130.20 L298.10 130.20 L299.10 130.20 L300.10 130.20 L301.10 130.20 L302.10 130.20 L303.10 130.20 L304.10 130.20 L305.10 130.20 L306.10 130.20 L307.10 130.20 L308.10 130.20 L309.10 130.20 L310.10 130.20 L311.10 130.20 L312.10 130.20 L313.10 130.20 L314.10 130.19 L315.10 130.19 L316.10 130.19 L317.10 130.19 L318.10 130.19 L319.10 130.19 L320.10 130.18 L321.10 130.18 L322.10 130.17 L323.10 130.17 L324.10 130.16 L325.10 130.14 L326.10 130.13 L327.10 130.11 L328.10 130.09 L329.10 130.06 L330.10 130.02 L331.10 129.98 L332.10 129.92 L333.10 129.85 L334.10 129.77 L335.10 129.67 L336.10 129.55 L337.10 129.40 L338.10 129.22 L339.10 129.01 L340.10 128.76 L341.10 128.46 L342.10 128.11 L343.10 127.71 L344.10 127.23 L345.10 126.68 L346.10 126.04 L347.10 125.30 L348.10 124.46 L349.10 123.51 L350.10 122.43 L351.10 121.20 L352.10 119.83 L353.10 118.30 L354.10 116.61 L355.10 114.73 L356.10 112.66 L357.10 110.41 L358.10 107.95 L359.10 105.29 L360.10 102.43 L361.10 99.36 L362.10 96.10 L363.10 92.65 L364.10 89.02 L365.10 85.22 L366.10 81.28 L367.10 77.20 L368.10 73.03 L369.10 68.77 L370.10 64.46 L371.10 60.14 L372.10 55.84 L373.10 51.59 L374.10 47.43 L375.10 43.41 L376.10 39.55 L377.10 35.90 L378.10 32.50 L379.10 29.37 L380.10 26.56 L381.10 24.09 L382.10 21.98 L383.10 20.26 L384.10 18.95 L385.10 18.05 L386.10 17.57 L387.10 17.52 L388.10 17.88 L389.10 18.66 L390.10 19.84 L391.10 21.40 L392.10 23.31 L393.10 25.56 L394.10 28.10 L395.10 30.92 L396.10 33.97 L397.10 37.23 L398.10 40.64 L399.10 44.19 L400.10 47.83 L401.10 51.54 L402.10 55.27 L403.10 59.00 L404.10 62.70 L405.10 66.34 L406.10 69.91 L407.10 73.38 L408.10 76.74 L409.10 79.98 L410.10 83.07 L411.10 86.03 L412.10 88.84 L413.10 91.50 L414.10 94.01 L415.10 96.37 L416.10 98.59 L417.10 100.66 L418.10 102.61 L419.10 104.42 L420.10 106.12 L421.10 107.70 L422.10 109.18 L423.10 110.56 L424.10 111.85 L425.10 113.05 L426.10 114.18 L427.10 115.24 L428.10 116.24 L429.10 117.17 L430.10 118.06 L431.10 118.89 L432.10 119.67 L433.10 120.41 L434.10 121.11 L435.10 121.77 L436.10 122.39 L437.10 122.98 L438.10 123.54 L439.10 124.06 L440.10 124.56 L441.10 125.02 L442.10 125.46 L443.10 125.87 L444.10 126.25 L445.10 126.61 L446.10 126.94 L447.10 127.25 L448.10 127.53 L449.10 127.80 L450.10 128.04 L451.10 128.26 L452.10 128.47 L453.10 128.66 L454.10 128.83 L455.10 128.98 L456.10 129.12 L457.10 129.25 L458.10 129.36 L459.10 129.47 L460.10 129.56 L461.10 129.64 L462.10 129.71 L463.10 129.78 L464.10 129.83 L465.10 129.88 L466.10 129.93 L467.10 129.96 L468.10 130.00 L469.10 130.03 L470.10 130.05 L471.10 130.07 L472.10 130.09 L473.10 130.11" fill="none" stroke="#4f9ad8" stroke-width="1.15"/>
<path d="M297.10 130.20 L298.10 130.20 L299.10 130.20 L300.10 130.20 L301.10 130.20 L302.10 130.20 L303.10 130.20 L304.10 130.20 L305.10 130.20 L306.10 130.20 L307.10 130.20 L308.10 130.20 L309.10 130.20 L310.10 130.20 L311.10 130.20 L312.10 130.20 L313.10 130.20 L314.10 130.19 L315.10 130.19 L316.10 130.19 L317.10 130.19 L318.10 130.19 L319.10 130.19 L320.10 130.18 L321.10 130.18 L322.10 130.17 L323.10 130.17 L324.10 130.16 L325.10 130.15 L326.10 130.13 L327.10 130.11 L328.10 130.09 L329.10 130.06 L330.10 130.02 L331.10 129.98 L332.10 129.92 L333.10 129.86 L334.10 129.77 L335.10 129.67 L336.10 129.55 L337.10 129.41 L338.10 129.23 L339.10 129.02 L340.10 128.77 L341.10 128.48 L342.10 128.14 L343.10 127.73 L344.10 127.26 L345.10 126.71 L346.10 126.08 L347.10 125.36 L348.10 124.53 L349.10 123.59 L350.10 122.52 L351.10 121.31 L352.10 119.96 L353.10 118.45 L354.10 116.78 L355.10 114.93 L356.10 112.90 L357.10 110.68 L358.10 108.27 L359.10 105.66 L360.10 102.86 L361.10 99.86 L362.10 96.68 L363.10 93.31 L364.10 89.77 L365.10 86.08 L366.10 82.25 L367.10 78.30 L368.10 74.26 L369.10 70.16 L370.10 66.03 L371.10 61.90 L372.10 57.80 L373.10 53.77 L374.10 49.86 L375.10 46.09 L376.10 42.52 L377.10 39.17 L378.10 36.09 L379.10 33.31 L380.10 30.86 L381.10 28.77 L382.10 27.07 L383.10 25.77 L384.10 24.90 L385.10 24.46 L386.10 24.46 L387.10 24.90 L388.10 25.77 L389.10 27.07 L390.10 28.77 L391.10 30.86 L392.10 33.31 L393.10 36.09 L394.10 39.17 L395.10 42.52 L396.10 46.09 L397.10 49.86 L398.10 53.77 L399.10 57.80 L400.10 61.90 L401.10 66.03 L402.10 70.16 L403.10 74.26 L404.10 78.30 L405.10 82.25 L406.10 86.08 L407.10 89.77 L408.10 93.31 L409.10 96.68 L410.10 99.86 L411.10 102.86 L412.10 105.66 L413.10 108.27 L414.10 110.68 L415.10 112.90 L416.10 114.93 L417.10 116.78 L418.10 118.45 L419.10 119.96 L420.10 121.31 L421.10 122.52 L422.10 123.59 L423.10 124.53 L424.10 125.36 L425.10 126.08 L426.10 126.71 L427.10 127.26 L428.10 127.73 L429.10 128.14 L430.10 128.48 L431.10 128.77 L432.10 129.02 L433.10 129.23 L434.10 129.41 L435.10 129.55 L436.10 129.67 L437.10 129.77 L438.10 129.86 L439.10 129.92 L440.10 129.98 L441.10 130.02 L442.10 130.06 L443.10 130.09 L444.10 130.11 L445.10 130.13 L446.10 130.15 L447.10 130.16 L448.10 130.17 L449.10 130.17 L450.10 130.18 L451.10 130.18 L452.10 130.19 L453.10 130.19 L454.10 130.19 L455.10 130.19 L456.10 130.19 L457.10 130.19 L458.10 130.20 L459.10 130.20 L460.10 130.20 L461.10 130.20 L462.10 130.20 L463.10 130.20 L464.10 130.20 L465.10 130.20 L466.10 130.20 L467.10 130.20 L468.10 130.20 L469.10 130.20 L470.10 130.20 L471.10 130.20 L472.10 130.20 L473.10 130.20" fill="none" stroke="#e03a48" stroke-width="1.1" stroke-dasharray="3 2"/>
<path d="M297.10 130.20 L298.10 130.20 L299.10 130.20 L300.10 130.20 L301.10 130.20 L302.10 130.20 L303.10 130.20 L304.10 130.20 L305.10 130.20 L306.10 130.20 L307.10 130.20 L308.10 130.20 L309.10 130.20 L310.10 130.20 L311.10 130.20 L312.10 130.20 L313.10 130.20 L314.10 130.20 L315.10 130.20 L316.10 130.20 L317.10 130.20 L318.10 130.20 L319.10 130.20 L320.10 130.20 L321.10 130.20 L322.10 130.20 L323.10 130.20 L324.10 130.20 L325.10 130.20 L326.10 130.20 L327.10 130.20 L328.10 130.20 L329.10 130.20 L330.10 130.20 L331.10 130.20 L332.10 130.19 L333.10 130.19 L334.10 130.19 L335.10 130.19 L336.10 130.19 L337.10 130.19 L338.10 130.19 L339.10 130.19 L340.10 130.18 L341.10 130.18 L342.10 130.18 L343.10 130.17 L344.10 130.17 L345.10 130.16 L346.10 130.15 L347.10 130.14 L348.10 130.13 L349.10 130.12 L350.10 130.11 L351.10 130.09 L352.10 130.07 L353.10 130.05 L354.10 130.02 L355.10 129.99 L356.10 129.96 L357.10 129.92 L358.10 129.87 L359.10 129.82 L360.10 129.76 L361.10 129.70 L362.10 129.62 L363.10 129.54 L364.10 129.45 L365.10 129.34 L366.10 129.23 L367.10 129.10 L368.10 128.96 L369.10 128.80 L370.10 128.63 L371.10 128.44 L372.10 128.24 L373.10 128.01 L374.10 127.77 L375.10 127.51 L376.10 127.23 L377.10 126.93 L378.10 126.61 L379.10 126.26 L380.10 125.90 L381.10 125.52 L382.10 125.11 L383.10 124.69 L384.10 124.25 L385.10 123.79 L386.10 123.31 L387.10 122.82 L388.10 122.31 L389.10 121.80 L390.10 121.27 L391.10 120.74 L392.10 120.20 L393.10 119.66 L394.10 119.13 L395.10 118.60 L396.10 118.08 L397.10 117.57 L398.10 117.07 L399.10 116.59 L400.10 116.14 L401.10 115.71 L402.10 115.30 L403.10 114.93 L404.10 114.59 L405.10 114.29 L406.10 114.03 L407.10 113.81 L408.10 113.63 L409.10 113.50 L410.10 113.41 L411.10 113.37 L412.10 113.37 L413.10 113.42 L414.10 113.52 L415.10 113.66 L416.10 113.85 L417.10 114.08 L418.10 114.35 L419.10 114.66 L420.10 115.00 L421.10 115.38 L422.10 115.79 L423.10 116.23 L424.10 116.69 L425.10 117.17 L426.10 117.67 L427.10 118.18 L428.10 118.70 L429.10 119.24 L430.10 119.77 L431.10 120.31 L432.10 120.84 L433.10 121.38 L434.10 121.90 L435.10 122.41 L436.10 122.92 L437.10 123.41 L438.10 123.88 L439.10 124.34 L440.10 124.78 L441.10 125.20 L442.10 125.60 L443.10 125.98 L444.10 126.33 L445.10 126.67 L446.10 126.99 L447.10 127.29 L448.10 127.56 L449.10 127.82 L450.10 128.06 L451.10 128.28 L452.10 128.48 L453.10 128.67 L454.10 128.83 L455.10 128.99 L456.10 129.13 L457.10 129.25 L458.10 129.37 L459.10 129.47 L460.10 129.56 L461.10 129.64 L462.10 129.71 L463.10 129.78 L464.10 129.83 L465.10 129.88 L466.10 129.93 L467.10 129.96 L468.10 130.00 L469.10 130.03 L470.10 130.05 L471.10 130.07 L472.10 130.09 L473.10 130.11" fill="none" stroke="#3aa83a" stroke-width="1.1" stroke-dasharray="3 2"/>
<line x1="302.9" y1="15.7" x2="324.3" y2="15.7" stroke="#666" stroke-width="1.2"/>
<text x="328.90" y="18.50" font-size="8.21" fill="#111" text-anchor="start" stroke="#111" stroke-width="0.30" textLength="19.80" lengthAdjust="spacingAndGlyphs">300 K</text>
<line x1="302.9" y1="28.6" x2="324.3" y2="28.6" stroke="#8cbde6" stroke-width="1.9"/>
<text x="328.90" y="26.00" font-size="6.48" fill="#5d9fd8" text-anchor="start" stroke="#5d9fd8" stroke-width="0.05" textLength="31.50" lengthAdjust="spacingAndGlyphs">Cumulative</text>
<text x="328.90" y="33.40" font-size="6.48" fill="#5d9fd8" text-anchor="start" stroke="#5d9fd8" stroke-width="0.05" textLength="22.20" lengthAdjust="spacingAndGlyphs">Fit Peak</text>
<line x1="302.9" y1="41.7" x2="324.3" y2="41.7" stroke="#e04a58" stroke-width="1.1" stroke-dasharray="3.6 2.6"/>
<text x="328.90" y="44.50" font-size="6.48" fill="#d04458" text-anchor="start" stroke="#d04458" stroke-width="0.05" textLength="20.50" lengthAdjust="spacingAndGlyphs">Peak A</text>
<line x1="302.9" y1="54.0" x2="324.3" y2="54.0" stroke="#3aa83a" stroke-width="1.1" stroke-dasharray="3.6 2.6"/>
<text x="328.90" y="56.30" font-size="6.48" fill="#3d9a3d" text-anchor="start" stroke="#3d9a3d" stroke-width="0.05" textLength="20.50" lengthAdjust="spacingAndGlyphs">Peak B</text>
<text x="262.20" y="166.40" font-size="13.39" fill="#111" text-anchor="start" stroke="#111" stroke-width="0.30" textLength="15.00" lengthAdjust="spacingAndGlyphs">(c)</text>
<defs><linearGradient id="gl" x1="0" y1="0" x2="0" y2="1"><stop offset="0" stop-color="#56648a"/><stop offset="0.36" stop-color="#7e859c"/><stop offset="0.7" stop-color="#adadb5"/><stop offset="1" stop-color="#cfcdce"/></linearGradient><linearGradient id="gr" x1="0" y1="0" x2="0" y2="1"><stop offset="0" stop-color="#e9aa76"/><stop offset="0.5" stop-color="#f5cea8"/><stop offset="1" stop-color="#fdf3e8"/></linearGradient></defs>
<rect x="320" y="175" width="61.8" height="99" fill="url(#gl)"/>
<line x1="320" y1="175.2" x2="381.8" y2="175.2" stroke="#3c4660" stroke-width="1.2"/>
<line x1="320" y1="275.5" x2="381.8" y2="275.5" stroke="#6d625e" stroke-width="1.4"/>
<rect x="386" y="193.2" width="62" height="96" fill="url(#gr)"/>
<line x1="386" y1="193.4" x2="448" y2="193.4" stroke="#a8703e" stroke-width="1.1"/>
<line x1="386" y1="290.6" x2="448" y2="290.6" stroke="#7d7470" stroke-width="1.4"/>
<line x1="320" y1="183.2" x2="381.8" y2="183.2" stroke="#2a3040" stroke-width="1.1" stroke-dasharray="5 4.4"/>
<line x1="320" y1="211.3" x2="381.8" y2="211.3" stroke="#34373f" stroke-width="1.1" stroke-dasharray="5 4.4"/>
<line x1="386" y1="203.6" x2="448" y2="203.6" stroke="#4e3a2e" stroke-width="1.1" stroke-dasharray="5 4.4"/>
<line x1="386" y1="225.3" x2="448" y2="225.3" stroke="#4e3a2e" stroke-width="1.1" stroke-dasharray="5 4.4"/>
<path d="M321.8 176.6 H323.8 V182.6 H321.8" fill="none" stroke="#1e2230" stroke-width="0.75"/>
<path d="M387.8 194.8 H389.8 V203.2 H387.8" fill="none" stroke="#3a2418" stroke-width="0.75"/>
<text x="348.60" y="171.80" font-size="8.64" fill="#151515" text-anchor="middle" stroke="#151515" stroke-width="0.30" textLength="30.60" lengthAdjust="spacingAndGlyphs">-3.66 eV</text>
<text x="352.00" y="181.40" font-size="7.02" fill="#20242e" text-anchor="middle" stroke="#20242e" stroke-width="0.30" textLength="45.90" lengthAdjust="spacingAndGlyphs">&#916;E = ~34 meV</text>
<text x="352.70" y="208.90" font-size="8.64" fill="#151515" text-anchor="middle" stroke="#151515" stroke-width="0.30" textLength="29.20" lengthAdjust="spacingAndGlyphs">-3.87 eV</text>
<text x="351.00" y="235.00" font-size="9.94" fill="#151515" text-anchor="middle" stroke="#151515" stroke-width="0.30" textLength="17.40" lengthAdjust="spacingAndGlyphs">PbS</text>
<text x="329.4" y="251.3" font-size="9.0" fill="#1a1a1a" stroke="#1a1a1a" stroke-width="0.25" textLength="44.2" lengthAdjust="spacingAndGlyphs"><tspan font-style="italic">E</tspan><tspan font-style="italic" font-size="6" dy="1.5">g</tspan><tspan dy="-1.5">: 1.02eV</tspan></text>
<text x="353.10" y="283.60" font-size="7.78" fill="#151515" text-anchor="middle" stroke="#151515" stroke-width="0.30" textLength="30.50" lengthAdjust="spacingAndGlyphs">-4.68 eV</text>
<text x="305.35" y="179.50" font-size="10.58" fill="#111" text-anchor="middle" stroke="#111" stroke-width="0.30" textLength="13.90" lengthAdjust="spacingAndGlyphs">CB</text>
<text x="302.8" y="215.2" font-size="10.2" fill="#111" stroke="#111" stroke-width="0.25"><tspan textLength="4.6" lengthAdjust="spacingAndGlyphs">E</tspan><tspan font-size="6" dy="2.6" stroke-width="0.1">F</tspan></text>
<text x="305.60" y="279.80" font-size="10.58" fill="#111" text-anchor="middle" stroke="#111" stroke-width="0.30" textLength="13.00" lengthAdjust="spacingAndGlyphs">VB</text>
<text x="414.40" y="190.40" font-size="8.64" fill="#151515" text-anchor="middle" stroke="#151515" stroke-width="0.30" textLength="30.30" lengthAdjust="spacingAndGlyphs">-3.74 eV</text>
<text x="418.00" y="202.20" font-size="7.02" fill="#3a2a20" text-anchor="middle" stroke="#3a2a20" stroke-width="0.30" textLength="45.90" lengthAdjust="spacingAndGlyphs">&#916;E = ~65 meV</text>
<text x="418.60" y="224.30" font-size="8.64" fill="#151515" text-anchor="middle" stroke="#151515" stroke-width="0.30" textLength="30.30" lengthAdjust="spacingAndGlyphs">-4.04 eV</text>
<text x="419.30" y="250.90" font-size="9.94" fill="#151515" text-anchor="middle" stroke="#151515" stroke-width="0.30" textLength="26.80" lengthAdjust="spacingAndGlyphs">PbS-2</text>
<text x="396.6" y="268.9" font-size="9.0" fill="#1a1a1a" stroke="#1a1a1a" stroke-width="0.25" textLength="46" lengthAdjust="spacingAndGlyphs"><tspan font-style="italic">E</tspan><tspan font-style="italic" font-size="6" dy="1.5">g</tspan><tspan dy="-1.5">: 1.04 eV</tspan></text>
<text x="418.80" y="298.40" font-size="7.78" fill="#151515" text-anchor="middle" stroke="#151515" stroke-width="0.30" textLength="29.60" lengthAdjust="spacingAndGlyphs">-4.78 eV</text>
<text x="460.05" y="196.40" font-size="10.58" fill="#111" text-anchor="middle" stroke="#111" stroke-width="0.30" textLength="13.70" lengthAdjust="spacingAndGlyphs">CB</text>
<text x="453.3" y="228.6" font-size="10.2" fill="#111" stroke="#111" stroke-width="0.25"><tspan textLength="5.9" lengthAdjust="spacingAndGlyphs">E</tspan><tspan font-size="6" dy="2.6" stroke-width="0.1">F</tspan></text>
<text x="459.50" y="294.00" font-size="10.58" fill="#111" text-anchor="middle" stroke="#111" stroke-width="0.30" textLength="13.00" lengthAdjust="spacingAndGlyphs">VB</text></svg>
</body></html>
